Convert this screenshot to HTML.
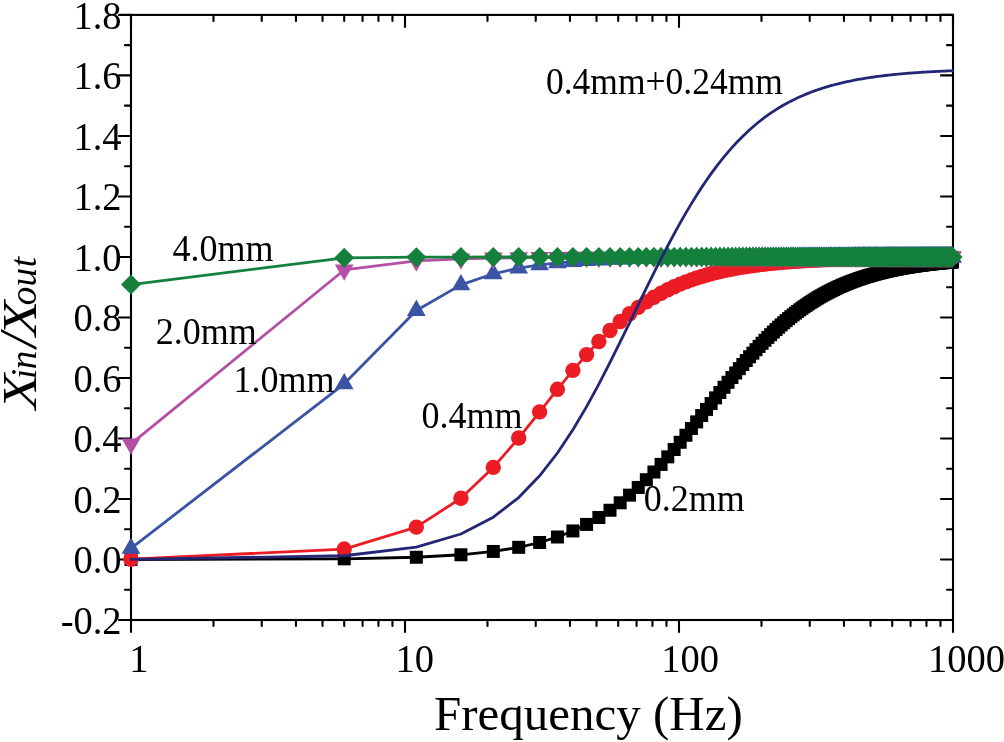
<!DOCTYPE html>
<html><head><meta charset="utf-8"><title>Xin/Xout vs Frequency</title>
<style>html,body{margin:0;padding:0;background:#fff;}body{width:1004px;height:742px;overflow:hidden;font-family:"Liberation Serif",serif;}svg{display:block;will-change:transform;}</style>
</head><body>
<svg width="1004" height="742" viewBox="0 0 1004 742"><rect x="131" y="14.91" width="822" height="605.1" fill="none" stroke="#000" stroke-width="2.1"/><path d="M119 620.01H131M953 620.01H941M125 589.75H131M953 589.75H947M119 559.5H131M953 559.5H941M125 529.25H131M953 529.25H947M119 498.99H131M953 498.99H941M125 468.74H131M953 468.74H947M119 438.48H131M953 438.48H941M125 408.23H131M953 408.23H947M119 377.97H131M953 377.97H941M125 347.72H131M953 347.72H947M119 317.46H131M953 317.46H941M125 287.2H131M953 287.2H947M119 256.95H131M953 256.95H941M125 226.69H131M953 226.69H947M119 196.44H131M953 196.44H941M125 166.18H131M953 166.18H947M119 135.93H131M953 135.93H941M125 105.67H131M953 105.67H947M119 75.42H131M953 75.42H941M125 45.16H131M953 45.16H947M119 14.91H131M953 14.91H941M131 620.01V632.01M131 14.91V26.91M213.48 620.01V626.01M213.48 14.91V20.91M261.73 620.01V626.01M261.73 14.91V20.91M295.96 620.01V626.01M295.96 14.91V20.91M322.52 620.01V626.01M322.52 14.91V20.91M344.21 620.01V626.01M344.21 14.91V20.91M362.56 620.01V626.01M362.56 14.91V20.91M378.45 620.01V626.01M378.45 14.91V20.91M392.46 620.01V626.01M392.46 14.91V20.91M405 620.01V632.01M405 14.91V26.91M487.48 620.01V626.01M487.48 14.91V20.91M535.73 620.01V626.01M535.73 14.91V20.91M569.96 620.01V626.01M569.96 14.91V20.91M596.52 620.01V626.01M596.52 14.91V20.91M618.21 620.01V626.01M618.21 14.91V20.91M636.56 620.01V626.01M636.56 14.91V20.91M652.45 620.01V626.01M652.45 14.91V20.91M666.46 620.01V626.01M666.46 14.91V20.91M679 620.01V632.01M679 14.91V26.91M761.48 620.01V626.01M761.48 14.91V20.91M809.73 620.01V626.01M809.73 14.91V20.91M843.96 620.01V626.01M843.96 14.91V20.91M870.52 620.01V626.01M870.52 14.91V20.91M892.21 620.01V626.01M892.21 14.91V20.91M910.56 620.01V626.01M910.56 14.91V20.91M926.45 620.01V626.01M926.45 14.91V20.91M940.46 620.01V626.01M940.46 14.91V20.91M953 620.01V632.01M953 14.91V26.91" stroke="#000" stroke-width="2.1" fill="none" stroke-linecap="round"/><path d="M131 559.48 L344.21 558.83 L416.34 557.25 L460.93 554.77 L493.29 551.45 L518.7 547.33 L539.63 542.49 L557.43 537 L572.9 530.94 L586.6 524.41 L598.87 517.49 L610 510.25 L620.18 502.79 L629.56 495.16 L638.24 487.46 L646.34 479.72 L653.92 472.02 L661.05 464.38 L667.78 456.86 L674.14 449.49 L680.18 442.28 L685.93 435.27 L691.42 428.47 L696.66 421.89 L701.68 415.54 L706.5 409.42 L711.13 403.54 L715.59 397.88 L719.89 392.46 L724.03 387.27 L728.04 382.3 L731.92 377.54 L735.67 373 L739.31 368.65 L742.84 364.51 L746.27 360.54 L749.6 356.76 L752.85 353.15 L756 349.7 L759.08 346.41 L762.08 343.27 L765 340.27 L767.85 337.41 L770.64 334.67 L773.36 332.06 L776.03 329.56 L778.63 327.17 L781.18 324.89 L783.67 322.71 L786.12 320.62 L788.51 318.62 L790.86 316.7 L793.16 314.87 L795.42 313.11 L797.63 311.43 L799.81 309.82 L801.95 308.27 L804.04 306.78 L806.11 305.36 L808.13 303.99 L810.13 302.67 L812.09 301.41 L814.02 300.19 L815.91 299.02 L817.78 297.9 L819.62 296.82 L821.43 295.77 L823.22 294.77 L824.97 293.8 L826.71 292.87 L828.41 291.97 L830.1 291.11 L831.76 290.27 L833.39 289.46 L835.01 288.68 L836.6 287.93 L838.17 287.2 L839.72 286.5 L841.26 285.82 L842.77 285.17 L844.26 284.53 L845.74 283.92 L847.19 283.32 L848.63 282.74 L850.05 282.19 L851.46 281.64 L852.85 281.12 L854.22 280.61 L855.58 280.12 L856.92 279.64 L858.24 279.18 L859.56 278.73 L860.85 278.29 L862.14 277.87 L863.41 277.46 L864.66 277.06 L865.91 276.67 L867.14 276.29 L868.36 275.92 L869.56 275.56 L870.76 275.22 L871.94 274.88 L873.11 274.55 L874.27 274.23 L875.41 273.92 L876.55 273.62 L877.68 273.32 L878.79 273.03 L879.9 272.75 L880.99 272.48 L882.08 272.21 L883.15 271.95 L884.22 271.7 L885.27 271.45 L886.32 271.21 L887.36 270.98 L888.38 270.75 L889.4 270.52 L890.41 270.3 L891.42 270.09 L892.41 269.88 L893.4 269.68 L894.38 269.48 L895.35 269.29 L896.31 269.1 L897.26 268.91 L898.21 268.73 L899.15 268.55 L900.08 268.38 L901 268.21 L901.92 268.04 L902.83 267.88 L903.74 267.72 L904.63 267.57 L905.52 267.41 L906.41 267.26 L907.28 267.12 L908.15 266.98 L909.02 266.84 L909.87 266.7 L910.73 266.56 L911.57 266.43 L912.41 266.3 L913.25 266.18 L914.07 266.05 L914.9 265.93 L915.71 265.81 L916.52 265.7 L917.33 265.58 L918.13 265.47 L918.93 265.36 L919.71 265.25 L920.5 265.15 L921.28 265.04 L922.05 264.94 L922.82 264.84 L923.59 264.74 L924.35 264.65 L925.1 264.55 L925.85 264.46 L926.6 264.37 L927.34 264.28 L928.07 264.19 L928.8 264.11 L929.53 264.02 L930.25 263.94 L930.97 263.86 L931.68 263.77 L932.39 263.7 L933.1 263.62 L933.8 263.54 L934.5 263.47 L935.19 263.39 L935.88 263.32 L936.56 263.25 L937.25 263.18 L937.92 263.11 L938.6 263.04 L939.27 262.97 L939.93 262.91 L940.59 262.84 L941.25 262.78 L941.91 262.72 L942.56 262.66 L943.21 262.6 L943.85 262.54 L944.49 262.48 L945.13 262.42 L945.76 262.36 L946.39 262.31 L947.02 262.25 L947.65 262.2 L948.27 262.14 L948.88 262.09 L949.5 262.04 L950.11 261.99 L950.72 261.94 L951.32 261.89 L951.92 261.84 L952.52 261.79" fill="none" stroke="#000000" stroke-width="2.8" stroke-linejoin="round"/><g fill="#000000"><rect x="124.5" y="552.98" width="13" height="13"/><rect x="337.71" y="552.33" width="13" height="13"/><rect x="409.84" y="550.75" width="13" height="13"/><rect x="454.43" y="548.27" width="13" height="13"/><rect x="486.79" y="544.95" width="13" height="13"/><rect x="512.2" y="540.83" width="13" height="13"/><rect x="533.13" y="535.99" width="13" height="13"/><rect x="550.93" y="530.5" width="13" height="13"/><rect x="566.4" y="524.44" width="13" height="13"/><rect x="580.1" y="517.91" width="13" height="13"/><rect x="592.37" y="510.99" width="13" height="13"/><rect x="603.5" y="503.75" width="13" height="13"/><rect x="613.68" y="496.29" width="13" height="13"/><rect x="623.06" y="488.66" width="13" height="13"/><rect x="631.74" y="480.96" width="13" height="13"/><rect x="639.84" y="473.22" width="13" height="13"/><rect x="647.42" y="465.52" width="13" height="13"/><rect x="654.55" y="457.88" width="13" height="13"/><rect x="661.28" y="450.36" width="13" height="13"/><rect x="667.64" y="442.99" width="13" height="13"/><rect x="673.68" y="435.78" width="13" height="13"/><rect x="679.43" y="428.77" width="13" height="13"/><rect x="684.92" y="421.97" width="13" height="13"/><rect x="690.16" y="415.39" width="13" height="13"/><rect x="695.18" y="409.04" width="13" height="13"/><rect x="700" y="402.92" width="13" height="13"/><rect x="704.63" y="397.04" width="13" height="13"/><rect x="709.09" y="391.38" width="13" height="13"/><rect x="713.39" y="385.96" width="13" height="13"/><rect x="717.53" y="380.77" width="13" height="13"/><rect x="721.54" y="375.8" width="13" height="13"/><rect x="725.42" y="371.04" width="13" height="13"/><rect x="729.17" y="366.5" width="13" height="13"/><rect x="732.81" y="362.15" width="13" height="13"/><rect x="736.34" y="358.01" width="13" height="13"/><rect x="739.77" y="354.04" width="13" height="13"/><rect x="743.1" y="350.26" width="13" height="13"/><rect x="746.35" y="346.65" width="13" height="13"/><rect x="749.5" y="343.2" width="13" height="13"/><rect x="752.58" y="339.91" width="13" height="13"/><rect x="755.58" y="336.77" width="13" height="13"/><rect x="758.5" y="333.77" width="13" height="13"/><rect x="761.35" y="330.91" width="13" height="13"/><rect x="764.14" y="328.17" width="13" height="13"/><rect x="766.86" y="325.56" width="13" height="13"/><rect x="769.53" y="323.06" width="13" height="13"/><rect x="772.13" y="320.67" width="13" height="13"/><rect x="774.68" y="318.39" width="13" height="13"/><rect x="777.17" y="316.21" width="13" height="13"/><rect x="779.62" y="314.12" width="13" height="13"/><rect x="782.01" y="312.12" width="13" height="13"/><rect x="784.36" y="310.2" width="13" height="13"/><rect x="786.66" y="308.37" width="13" height="13"/><rect x="788.92" y="306.61" width="13" height="13"/><rect x="791.13" y="304.93" width="13" height="13"/><rect x="793.31" y="303.32" width="13" height="13"/><rect x="795.45" y="301.77" width="13" height="13"/><rect x="797.54" y="300.28" width="13" height="13"/><rect x="799.61" y="298.86" width="13" height="13"/><rect x="801.63" y="297.49" width="13" height="13"/><rect x="803.63" y="296.17" width="13" height="13"/><rect x="805.59" y="294.91" width="13" height="13"/><rect x="807.52" y="293.69" width="13" height="13"/><rect x="809.41" y="292.52" width="13" height="13"/><rect x="811.28" y="291.4" width="13" height="13"/><rect x="813.12" y="290.32" width="13" height="13"/><rect x="814.93" y="289.27" width="13" height="13"/><rect x="816.72" y="288.27" width="13" height="13"/><rect x="818.47" y="287.3" width="13" height="13"/><rect x="820.21" y="286.37" width="13" height="13"/><rect x="821.91" y="285.47" width="13" height="13"/><rect x="823.6" y="284.61" width="13" height="13"/><rect x="825.26" y="283.77" width="13" height="13"/><rect x="826.89" y="282.96" width="13" height="13"/><rect x="828.51" y="282.18" width="13" height="13"/><rect x="830.1" y="281.43" width="13" height="13"/><rect x="831.67" y="280.7" width="13" height="13"/><rect x="833.22" y="280" width="13" height="13"/><rect x="834.76" y="279.32" width="13" height="13"/><rect x="836.27" y="278.67" width="13" height="13"/><rect x="837.76" y="278.03" width="13" height="13"/><rect x="839.24" y="277.42" width="13" height="13"/><rect x="840.69" y="276.82" width="13" height="13"/><rect x="842.13" y="276.24" width="13" height="13"/><rect x="843.55" y="275.69" width="13" height="13"/><rect x="844.96" y="275.14" width="13" height="13"/><rect x="846.35" y="274.62" width="13" height="13"/><rect x="847.72" y="274.11" width="13" height="13"/><rect x="849.08" y="273.62" width="13" height="13"/><rect x="850.42" y="273.14" width="13" height="13"/><rect x="851.74" y="272.68" width="13" height="13"/><rect x="853.06" y="272.23" width="13" height="13"/><rect x="854.35" y="271.79" width="13" height="13"/><rect x="855.64" y="271.37" width="13" height="13"/><rect x="856.91" y="270.96" width="13" height="13"/><rect x="858.16" y="270.56" width="13" height="13"/><rect x="859.41" y="270.17" width="13" height="13"/><rect x="860.64" y="269.79" width="13" height="13"/><rect x="861.86" y="269.42" width="13" height="13"/><rect x="863.06" y="269.06" width="13" height="13"/><rect x="864.26" y="268.72" width="13" height="13"/><rect x="865.44" y="268.38" width="13" height="13"/><rect x="866.61" y="268.05" width="13" height="13"/><rect x="867.77" y="267.73" width="13" height="13"/><rect x="868.91" y="267.42" width="13" height="13"/><rect x="870.05" y="267.12" width="13" height="13"/><rect x="871.18" y="266.82" width="13" height="13"/><rect x="872.29" y="266.53" width="13" height="13"/><rect x="873.4" y="266.25" width="13" height="13"/><rect x="874.49" y="265.98" width="13" height="13"/><rect x="875.58" y="265.71" width="13" height="13"/><rect x="876.65" y="265.45" width="13" height="13"/><rect x="877.72" y="265.2" width="13" height="13"/><rect x="878.77" y="264.95" width="13" height="13"/><rect x="879.82" y="264.71" width="13" height="13"/><rect x="880.86" y="264.48" width="13" height="13"/><rect x="881.88" y="264.25" width="13" height="13"/><rect x="882.9" y="264.02" width="13" height="13"/><rect x="883.91" y="263.8" width="13" height="13"/><rect x="884.92" y="263.59" width="13" height="13"/><rect x="885.91" y="263.38" width="13" height="13"/><rect x="886.9" y="263.18" width="13" height="13"/><rect x="887.88" y="262.98" width="13" height="13"/><rect x="888.85" y="262.79" width="13" height="13"/><rect x="889.81" y="262.6" width="13" height="13"/><rect x="890.76" y="262.41" width="13" height="13"/><rect x="891.71" y="262.23" width="13" height="13"/><rect x="892.65" y="262.05" width="13" height="13"/><rect x="893.58" y="261.88" width="13" height="13"/><rect x="894.5" y="261.71" width="13" height="13"/><rect x="895.42" y="261.54" width="13" height="13"/><rect x="896.33" y="261.38" width="13" height="13"/><rect x="897.24" y="261.22" width="13" height="13"/><rect x="898.13" y="261.07" width="13" height="13"/><rect x="899.02" y="260.91" width="13" height="13"/><rect x="899.91" y="260.76" width="13" height="13"/><rect x="900.78" y="260.62" width="13" height="13"/><rect x="901.65" y="260.48" width="13" height="13"/><rect x="902.52" y="260.34" width="13" height="13"/><rect x="903.37" y="260.2" width="13" height="13"/><rect x="904.23" y="260.06" width="13" height="13"/><rect x="905.07" y="259.93" width="13" height="13"/><rect x="905.91" y="259.8" width="13" height="13"/><rect x="906.75" y="259.68" width="13" height="13"/><rect x="907.57" y="259.55" width="13" height="13"/><rect x="908.4" y="259.43" width="13" height="13"/><rect x="909.21" y="259.31" width="13" height="13"/><rect x="910.02" y="259.2" width="13" height="13"/><rect x="910.83" y="259.08" width="13" height="13"/><rect x="911.63" y="258.97" width="13" height="13"/><rect x="912.43" y="258.86" width="13" height="13"/><rect x="913.21" y="258.75" width="13" height="13"/><rect x="914" y="258.65" width="13" height="13"/><rect x="914.78" y="258.54" width="13" height="13"/><rect x="915.55" y="258.44" width="13" height="13"/><rect x="916.32" y="258.34" width="13" height="13"/><rect x="917.09" y="258.24" width="13" height="13"/><rect x="917.85" y="258.15" width="13" height="13"/><rect x="918.6" y="258.05" width="13" height="13"/><rect x="919.35" y="257.96" width="13" height="13"/><rect x="920.1" y="257.87" width="13" height="13"/><rect x="920.84" y="257.78" width="13" height="13"/><rect x="921.57" y="257.69" width="13" height="13"/><rect x="922.3" y="257.61" width="13" height="13"/><rect x="923.03" y="257.52" width="13" height="13"/><rect x="923.75" y="257.44" width="13" height="13"/><rect x="924.47" y="257.36" width="13" height="13"/><rect x="925.18" y="257.27" width="13" height="13"/><rect x="925.89" y="257.2" width="13" height="13"/><rect x="926.6" y="257.12" width="13" height="13"/><rect x="927.3" y="257.04" width="13" height="13"/><rect x="928" y="256.97" width="13" height="13"/><rect x="928.69" y="256.89" width="13" height="13"/><rect x="929.38" y="256.82" width="13" height="13"/><rect x="930.06" y="256.75" width="13" height="13"/><rect x="930.75" y="256.68" width="13" height="13"/><rect x="931.42" y="256.61" width="13" height="13"/><rect x="932.1" y="256.54" width="13" height="13"/><rect x="932.77" y="256.47" width="13" height="13"/><rect x="933.43" y="256.41" width="13" height="13"/><rect x="934.09" y="256.34" width="13" height="13"/><rect x="934.75" y="256.28" width="13" height="13"/><rect x="935.41" y="256.22" width="13" height="13"/><rect x="936.06" y="256.16" width="13" height="13"/><rect x="936.71" y="256.1" width="13" height="13"/><rect x="937.35" y="256.04" width="13" height="13"/><rect x="937.99" y="255.98" width="13" height="13"/><rect x="938.63" y="255.92" width="13" height="13"/><rect x="939.26" y="255.86" width="13" height="13"/><rect x="939.89" y="255.81" width="13" height="13"/><rect x="940.52" y="255.75" width="13" height="13"/><rect x="941.15" y="255.7" width="13" height="13"/><rect x="941.77" y="255.64" width="13" height="13"/><rect x="942.38" y="255.59" width="13" height="13"/><rect x="943" y="255.54" width="13" height="13"/><rect x="943.61" y="255.49" width="13" height="13"/><rect x="944.22" y="255.44" width="13" height="13"/><rect x="944.82" y="255.39" width="13" height="13"/><rect x="945.42" y="255.34" width="13" height="13"/><rect x="946.02" y="255.29" width="13" height="13"/></g><path d="M131 559.2 L344.21 549.07 L416.34 527.08 L460.93 498.23 L493.29 467.42 L518.7 438.05 L539.63 411.84 L557.43 389.32 L572.9 370.37 L586.6 354.58 L598.87 341.46 L610 330.55 L620.18 321.44 L629.56 313.81 L638.24 307.37 L646.34 301.91 L653.92 297.24 L661.05 293.24 L667.78 289.78 L674.14 286.78 L680.18 284.16 L685.93 281.86 L691.42 279.83 L696.66 278.04 L701.68 276.44 L706.5 275.01 L711.13 273.74 L715.59 272.59 L719.89 271.55 L724.03 270.61 L728.04 269.76 L731.92 268.98 L735.67 268.28 L739.31 267.63 L742.84 267.03 L746.27 266.49 L749.6 265.98 L752.85 265.52 L756 265.09 L759.08 264.69 L762.08 264.32 L765 263.97 L767.85 263.65 L770.64 263.35 L773.36 263.07 L776.03 262.81 L778.63 262.56 L781.18 262.33 L783.67 262.11 L786.12 261.91 L788.51 261.71 L790.86 261.53 L793.16 261.36 L795.42 261.2 L797.63 261.05 L799.81 260.9 L801.95 260.76 L804.04 260.63 L806.11 260.51 L808.13 260.39 L810.13 260.28 L812.09 260.17 L814.02 260.07 L815.91 259.97 L817.78 259.88 L819.62 259.79 L821.43 259.71 L823.22 259.63 L824.97 259.55 L826.71 259.48 L828.41 259.41 L830.1 259.34 L831.76 259.27 L833.39 259.21 L835.01 259.15 L836.6 259.09 L838.17 259.04 L839.72 258.98 L841.26 258.93 L842.77 258.88 L844.26 258.83 L845.74 258.79 L847.19 258.74 L848.63 258.7 L850.05 258.66 L851.46 258.62 L852.85 258.58 L854.22 258.55 L855.58 258.51 L856.92 258.48 L858.24 258.44 L859.56 258.41 L860.85 258.38 L862.14 258.35 L863.41 258.32 L864.66 258.29 L865.91 258.26 L867.14 258.24 L868.36 258.21 L869.56 258.18 L870.76 258.16 L871.94 258.14 L873.11 258.11 L874.27 258.09 L875.41 258.07 L876.55 258.05 L877.68 258.03 L878.79 258.01 L879.9 257.99 L880.99 257.97 L882.08 257.95 L883.15 257.93 L884.22 257.92 L885.27 257.9 L886.32 257.88 L887.36 257.87 L888.38 257.85 L889.4 257.84 L890.41 257.82 L891.42 257.81 L892.41 257.79 L893.4 257.78 L894.38 257.76 L895.35 257.75 L896.31 257.74 L897.26 257.73 L898.21 257.71 L899.15 257.7 L900.08 257.69 L901 257.68 L901.92 257.67 L902.83 257.66 L903.74 257.65 L904.63 257.64 L905.52 257.63 L906.41 257.62 L907.28 257.61 L908.15 257.6 L909.02 257.59 L909.87 257.58 L910.73 257.57 L911.57 257.56 L912.41 257.55 L913.25 257.54 L914.07 257.54 L914.9 257.53 L915.71 257.52 L916.52 257.51 L917.33 257.5 L918.13 257.5 L918.93 257.49 L919.71 257.48 L920.5 257.48 L921.28 257.47 L922.05 257.46 L922.82 257.46 L923.59 257.45 L924.35 257.44 L925.1 257.44 L925.85 257.43 L926.6 257.42 L927.34 257.42 L928.07 257.41 L928.8 257.41 L929.53 257.4 L930.25 257.4 L930.97 257.39 L931.68 257.39 L932.39 257.38 L933.1 257.38 L933.8 257.37 L934.5 257.37 L935.19 257.36 L935.88 257.36 L936.56 257.35 L937.25 257.35 L937.92 257.34 L938.6 257.34 L939.27 257.33 L939.93 257.33 L940.59 257.33 L941.25 257.32 L941.91 257.32 L942.56 257.31 L943.21 257.31 L943.85 257.31 L944.49 257.3 L945.13 257.3 L945.76 257.29 L946.39 257.29 L947.02 257.29 L947.65 257.28 L948.27 257.28 L948.88 257.28 L949.5 257.27 L950.11 257.27 L950.72 257.27 L951.32 257.26 L951.92 257.26 L952.52 257.26" fill="none" stroke="#ec1c24" stroke-width="2.8" stroke-linejoin="round"/><g fill="#ec1c24"><circle cx="131" cy="559.2" r="7.7"/><circle cx="344.21" cy="549.07" r="7.7"/><circle cx="416.34" cy="527.08" r="7.7"/><circle cx="460.93" cy="498.23" r="7.7"/><circle cx="493.29" cy="467.42" r="7.7"/><circle cx="518.7" cy="438.05" r="7.7"/><circle cx="539.63" cy="411.84" r="7.7"/><circle cx="557.43" cy="389.32" r="7.7"/><circle cx="572.9" cy="370.37" r="7.7"/><circle cx="586.6" cy="354.58" r="7.7"/><circle cx="598.87" cy="341.46" r="7.7"/><circle cx="610" cy="330.55" r="7.7"/><circle cx="620.18" cy="321.44" r="7.7"/><circle cx="629.56" cy="313.81" r="7.7"/><circle cx="638.24" cy="307.37" r="7.7"/><circle cx="646.34" cy="301.91" r="7.7"/><circle cx="653.92" cy="297.24" r="7.7"/><circle cx="661.05" cy="293.24" r="7.7"/><circle cx="667.78" cy="289.78" r="7.7"/><circle cx="674.14" cy="286.78" r="7.7"/><circle cx="680.18" cy="284.16" r="7.7"/><circle cx="685.93" cy="281.86" r="7.7"/><circle cx="691.42" cy="279.83" r="7.7"/><circle cx="696.66" cy="278.04" r="7.7"/><circle cx="701.68" cy="276.44" r="7.7"/><circle cx="706.5" cy="275.01" r="7.7"/><circle cx="711.13" cy="273.74" r="7.7"/><circle cx="715.59" cy="272.59" r="7.7"/><circle cx="719.89" cy="271.55" r="7.7"/><circle cx="724.03" cy="270.61" r="7.7"/><circle cx="728.04" cy="269.76" r="7.7"/><circle cx="731.92" cy="268.98" r="7.7"/><circle cx="735.67" cy="268.28" r="7.7"/><circle cx="739.31" cy="267.63" r="7.7"/><circle cx="742.84" cy="267.03" r="7.7"/><circle cx="746.27" cy="266.49" r="7.7"/><circle cx="749.6" cy="265.98" r="7.7"/><circle cx="752.85" cy="265.52" r="7.7"/><circle cx="756" cy="265.09" r="7.7"/><circle cx="759.08" cy="264.69" r="7.7"/><circle cx="762.08" cy="264.32" r="7.7"/><circle cx="765" cy="263.97" r="7.7"/><circle cx="767.85" cy="263.65" r="7.7"/><circle cx="770.64" cy="263.35" r="7.7"/><circle cx="773.36" cy="263.07" r="7.7"/><circle cx="776.03" cy="262.81" r="7.7"/><circle cx="778.63" cy="262.56" r="7.7"/><circle cx="781.18" cy="262.33" r="7.7"/><circle cx="783.67" cy="262.11" r="7.7"/><circle cx="786.12" cy="261.91" r="7.7"/><circle cx="788.51" cy="261.71" r="7.7"/><circle cx="790.86" cy="261.53" r="7.7"/><circle cx="793.16" cy="261.36" r="7.7"/><circle cx="795.42" cy="261.2" r="7.7"/><circle cx="797.63" cy="261.05" r="7.7"/><circle cx="799.81" cy="260.9" r="7.7"/><circle cx="801.95" cy="260.76" r="7.7"/><circle cx="804.04" cy="260.63" r="7.7"/><circle cx="806.11" cy="260.51" r="7.7"/><circle cx="808.13" cy="260.39" r="7.7"/><circle cx="810.13" cy="260.28" r="7.7"/><circle cx="812.09" cy="260.17" r="7.7"/><circle cx="814.02" cy="260.07" r="7.7"/><circle cx="815.91" cy="259.97" r="7.7"/><circle cx="817.78" cy="259.88" r="7.7"/><circle cx="819.62" cy="259.79" r="7.7"/><circle cx="821.43" cy="259.71" r="7.7"/><circle cx="823.22" cy="259.63" r="7.7"/><circle cx="824.97" cy="259.55" r="7.7"/><circle cx="826.71" cy="259.48" r="7.7"/><circle cx="828.41" cy="259.41" r="7.7"/><circle cx="830.1" cy="259.34" r="7.7"/><circle cx="831.76" cy="259.27" r="7.7"/><circle cx="833.39" cy="259.21" r="7.7"/><circle cx="835.01" cy="259.15" r="7.7"/><circle cx="836.6" cy="259.09" r="7.7"/><circle cx="838.17" cy="259.04" r="7.7"/><circle cx="839.72" cy="258.98" r="7.7"/><circle cx="841.26" cy="258.93" r="7.7"/><circle cx="842.77" cy="258.88" r="7.7"/><circle cx="844.26" cy="258.83" r="7.7"/><circle cx="845.74" cy="258.79" r="7.7"/><circle cx="847.19" cy="258.74" r="7.7"/><circle cx="848.63" cy="258.7" r="7.7"/><circle cx="850.05" cy="258.66" r="7.7"/><circle cx="851.46" cy="258.62" r="7.7"/><circle cx="852.85" cy="258.58" r="7.7"/><circle cx="854.22" cy="258.55" r="7.7"/><circle cx="855.58" cy="258.51" r="7.7"/><circle cx="856.92" cy="258.48" r="7.7"/><circle cx="858.24" cy="258.44" r="7.7"/><circle cx="859.56" cy="258.41" r="7.7"/><circle cx="860.85" cy="258.38" r="7.7"/><circle cx="862.14" cy="258.35" r="7.7"/><circle cx="863.41" cy="258.32" r="7.7"/><circle cx="864.66" cy="258.29" r="7.7"/><circle cx="865.91" cy="258.26" r="7.7"/><circle cx="867.14" cy="258.24" r="7.7"/><circle cx="868.36" cy="258.21" r="7.7"/><circle cx="869.56" cy="258.18" r="7.7"/><circle cx="870.76" cy="258.16" r="7.7"/><circle cx="871.94" cy="258.14" r="7.7"/><circle cx="873.11" cy="258.11" r="7.7"/><circle cx="874.27" cy="258.09" r="7.7"/><circle cx="875.41" cy="258.07" r="7.7"/><circle cx="876.55" cy="258.05" r="7.7"/><circle cx="877.68" cy="258.03" r="7.7"/><circle cx="878.79" cy="258.01" r="7.7"/><circle cx="879.9" cy="257.99" r="7.7"/><circle cx="880.99" cy="257.97" r="7.7"/><circle cx="882.08" cy="257.95" r="7.7"/><circle cx="883.15" cy="257.93" r="7.7"/><circle cx="884.22" cy="257.92" r="7.7"/><circle cx="885.27" cy="257.9" r="7.7"/><circle cx="886.32" cy="257.88" r="7.7"/><circle cx="887.36" cy="257.87" r="7.7"/><circle cx="888.38" cy="257.85" r="7.7"/><circle cx="889.4" cy="257.84" r="7.7"/><circle cx="890.41" cy="257.82" r="7.7"/><circle cx="891.42" cy="257.81" r="7.7"/><circle cx="892.41" cy="257.79" r="7.7"/><circle cx="893.4" cy="257.78" r="7.7"/><circle cx="894.38" cy="257.76" r="7.7"/><circle cx="895.35" cy="257.75" r="7.7"/><circle cx="896.31" cy="257.74" r="7.7"/><circle cx="897.26" cy="257.73" r="7.7"/><circle cx="898.21" cy="257.71" r="7.7"/><circle cx="899.15" cy="257.7" r="7.7"/><circle cx="900.08" cy="257.69" r="7.7"/><circle cx="901" cy="257.68" r="7.7"/><circle cx="901.92" cy="257.67" r="7.7"/><circle cx="902.83" cy="257.66" r="7.7"/><circle cx="903.74" cy="257.65" r="7.7"/><circle cx="904.63" cy="257.64" r="7.7"/><circle cx="905.52" cy="257.63" r="7.7"/><circle cx="906.41" cy="257.62" r="7.7"/><circle cx="907.28" cy="257.61" r="7.7"/><circle cx="908.15" cy="257.6" r="7.7"/><circle cx="909.02" cy="257.59" r="7.7"/><circle cx="909.87" cy="257.58" r="7.7"/><circle cx="910.73" cy="257.57" r="7.7"/><circle cx="911.57" cy="257.56" r="7.7"/><circle cx="912.41" cy="257.55" r="7.7"/><circle cx="913.25" cy="257.54" r="7.7"/><circle cx="914.07" cy="257.54" r="7.7"/><circle cx="914.9" cy="257.53" r="7.7"/><circle cx="915.71" cy="257.52" r="7.7"/><circle cx="916.52" cy="257.51" r="7.7"/><circle cx="917.33" cy="257.5" r="7.7"/><circle cx="918.13" cy="257.5" r="7.7"/><circle cx="918.93" cy="257.49" r="7.7"/><circle cx="919.71" cy="257.48" r="7.7"/><circle cx="920.5" cy="257.48" r="7.7"/><circle cx="921.28" cy="257.47" r="7.7"/><circle cx="922.05" cy="257.46" r="7.7"/><circle cx="922.82" cy="257.46" r="7.7"/><circle cx="923.59" cy="257.45" r="7.7"/><circle cx="924.35" cy="257.44" r="7.7"/><circle cx="925.1" cy="257.44" r="7.7"/><circle cx="925.85" cy="257.43" r="7.7"/><circle cx="926.6" cy="257.42" r="7.7"/><circle cx="927.34" cy="257.42" r="7.7"/><circle cx="928.07" cy="257.41" r="7.7"/><circle cx="928.8" cy="257.41" r="7.7"/><circle cx="929.53" cy="257.4" r="7.7"/><circle cx="930.25" cy="257.4" r="7.7"/><circle cx="930.97" cy="257.39" r="7.7"/><circle cx="931.68" cy="257.39" r="7.7"/><circle cx="932.39" cy="257.38" r="7.7"/><circle cx="933.1" cy="257.38" r="7.7"/><circle cx="933.8" cy="257.37" r="7.7"/><circle cx="934.5" cy="257.37" r="7.7"/><circle cx="935.19" cy="257.36" r="7.7"/><circle cx="935.88" cy="257.36" r="7.7"/><circle cx="936.56" cy="257.35" r="7.7"/><circle cx="937.25" cy="257.35" r="7.7"/><circle cx="937.92" cy="257.34" r="7.7"/><circle cx="938.6" cy="257.34" r="7.7"/><circle cx="939.27" cy="257.33" r="7.7"/><circle cx="939.93" cy="257.33" r="7.7"/><circle cx="940.59" cy="257.33" r="7.7"/><circle cx="941.25" cy="257.32" r="7.7"/><circle cx="941.91" cy="257.32" r="7.7"/><circle cx="942.56" cy="257.31" r="7.7"/><circle cx="943.21" cy="257.31" r="7.7"/><circle cx="943.85" cy="257.31" r="7.7"/><circle cx="944.49" cy="257.3" r="7.7"/><circle cx="945.13" cy="257.3" r="7.7"/><circle cx="945.76" cy="257.29" r="7.7"/><circle cx="946.39" cy="257.29" r="7.7"/><circle cx="947.02" cy="257.29" r="7.7"/><circle cx="947.65" cy="257.28" r="7.7"/><circle cx="948.27" cy="257.28" r="7.7"/><circle cx="948.88" cy="257.28" r="7.7"/><circle cx="949.5" cy="257.27" r="7.7"/><circle cx="950.11" cy="257.27" r="7.7"/><circle cx="950.72" cy="257.27" r="7.7"/><circle cx="951.32" cy="257.26" r="7.7"/><circle cx="951.92" cy="257.26" r="7.7"/><circle cx="952.52" cy="257.26" r="7.7"/></g><path d="M131 548.3 L344.21 383.85 L416.34 310.48 L460.93 284.85 L493.29 273.8 L518.7 268.16 L539.63 264.92 L557.43 262.9 L572.9 261.56 L586.6 260.62 L598.87 259.95 L610 259.44 L620.18 259.05 L629.56 258.75 L638.24 258.5 L646.34 258.31 L653.92 258.14 L661.05 258.01 L667.78 257.9 L674.14 257.8 L680.18 257.72 L685.93 257.65 L691.42 257.59 L696.66 257.53 L701.68 257.49 L706.5 257.44 L711.13 257.41 L715.59 257.37 L719.89 257.35 L724.03 257.32 L728.04 257.29 L731.92 257.27 L735.67 257.25 L739.31 257.24 L742.84 257.22 L746.27 257.2 L749.6 257.19 L752.85 257.18 L756 257.17 L759.08 257.15 L762.08 257.14 L765 257.14 L767.85 257.13 L770.64 257.12 L773.36 257.11 L776.03 257.1 L778.63 257.1 L781.18 257.09 L783.67 257.09 L786.12 257.08 L788.51 257.07 L790.86 257.07 L793.16 257.07 L795.42 257.06 L797.63 257.06 L799.81 257.05 L801.95 257.05 L804.04 257.05 L806.11 257.04 L808.13 257.04 L810.13 257.04 L812.09 257.03 L814.02 257.03 L815.91 257.03 L817.78 257.03 L819.62 257.02 L821.43 257.02 L823.22 257.02 L824.97 257.02 L826.71 257.02 L828.41 257.01 L830.1 257.01 L831.76 257.01 L833.39 257.01 L835.01 257.01 L836.6 257.01 L838.17 257 L839.72 257 L841.26 257 L842.77 257 L844.26 257 L845.74 257 L847.19 257 L848.63 257 L850.05 256.99 L851.46 256.99 L852.85 256.99 L854.22 256.99 L855.58 256.99 L856.92 256.99 L858.24 256.99 L859.56 256.99 L860.85 256.99 L862.14 256.99 L863.41 256.99 L864.66 256.98 L865.91 256.98 L867.14 256.98 L868.36 256.98 L869.56 256.98 L870.76 256.98 L871.94 256.98 L873.11 256.98 L874.27 256.98 L875.41 256.98 L876.55 256.98 L877.68 256.98 L878.79 256.98 L879.9 256.98 L880.99 256.98 L882.08 256.98 L883.15 256.98 L884.22 256.98 L885.27 256.97 L886.32 256.97 L887.36 256.97 L888.38 256.97 L889.4 256.97 L890.41 256.97 L891.42 256.97 L892.41 256.97 L893.4 256.97 L894.38 256.97 L895.35 256.97 L896.31 256.97 L897.26 256.97 L898.21 256.97 L899.15 256.97 L900.08 256.97 L901 256.97 L901.92 256.97 L902.83 256.97 L903.74 256.97 L904.63 256.97 L905.52 256.97 L906.41 256.97 L907.28 256.97 L908.15 256.97 L909.02 256.97 L909.87 256.97 L910.73 256.97 L911.57 256.97 L912.41 256.97 L913.25 256.97 L914.07 256.97 L914.9 256.96 L915.71 256.96 L916.52 256.96 L917.33 256.96 L918.13 256.96 L918.93 256.96 L919.71 256.96 L920.5 256.96 L921.28 256.96 L922.05 256.96 L922.82 256.96 L923.59 256.96 L924.35 256.96 L925.1 256.96 L925.85 256.96 L926.6 256.96 L927.34 256.96 L928.07 256.96 L928.8 256.96 L929.53 256.96 L930.25 256.96 L930.97 256.96 L931.68 256.96 L932.39 256.96 L933.1 256.96 L933.8 256.96 L934.5 256.96 L935.19 256.96 L935.88 256.96 L936.56 256.96 L937.25 256.96 L937.92 256.96 L938.6 256.96 L939.27 256.96 L939.93 256.96 L940.59 256.96 L941.25 256.96 L941.91 256.96 L942.56 256.96 L943.21 256.96 L943.85 256.96 L944.49 256.96 L945.13 256.96 L945.76 256.96 L946.39 256.96 L947.02 256.96 L947.65 256.96 L948.27 256.96 L948.88 256.96 L949.5 256.96 L950.11 256.96 L950.72 256.96 L951.32 256.96 L951.92 256.96 L952.52 256.96" fill="none" stroke="#3a53a4" stroke-width="2.8" stroke-linejoin="round"/><g fill="#3a53a4"><path d="M131 537.43L140.35 553.73H121.65Z"/><path d="M344.21 372.99L353.56 389.29H334.86Z"/><path d="M416.34 299.61L425.69 315.91H406.99Z"/><path d="M460.93 273.99L470.28 290.29H451.58Z"/><path d="M493.29 262.93L502.64 279.23H483.94Z"/><path d="M518.7 257.29L528.05 273.59H509.35Z"/><path d="M539.63 254.06L548.98 270.36H530.28Z"/><path d="M557.43 252.04L566.78 268.34H548.08Z"/><path d="M572.9 250.69L582.25 266.99H563.55Z"/><path d="M586.6 249.76L595.95 266.06H577.25Z"/><path d="M598.87 249.08L608.22 265.38H589.52Z"/><path d="M610 248.57L619.35 264.87H600.65Z"/><path d="M620.18 248.18L629.53 264.48H610.83Z"/><path d="M629.56 247.88L638.91 264.18H620.21Z"/><path d="M638.24 247.64L647.59 263.94H628.89Z"/><path d="M646.34 247.44L655.69 263.74H636.99Z"/><path d="M653.92 247.28L663.27 263.58H644.57Z"/><path d="M661.05 247.14L670.4 263.44H651.7Z"/><path d="M667.78 247.03L677.13 263.33H658.43Z"/><path d="M674.14 246.93L683.49 263.23H664.79Z"/><path d="M680.18 246.85L689.53 263.15H670.83Z"/><path d="M685.93 246.78L695.28 263.08H676.58Z"/><path d="M691.42 246.72L700.77 263.02H682.07Z"/><path d="M696.66 246.67L706.01 262.97H687.31Z"/><path d="M701.68 246.62L711.03 262.92H692.33Z"/><path d="M706.5 246.58L715.85 262.88H697.15Z"/><path d="M711.13 246.54L720.48 262.84H701.78Z"/><path d="M715.59 246.51L724.94 262.81H706.24Z"/><path d="M719.89 246.48L729.24 262.78H710.54Z"/><path d="M724.03 246.45L733.38 262.75H714.68Z"/><path d="M728.04 246.43L737.39 262.73H718.69Z"/><path d="M731.92 246.41L741.27 262.71H722.57Z"/><path d="M735.67 246.39L745.02 262.69H726.32Z"/><path d="M739.31 246.37L748.66 262.67H729.96Z"/><path d="M742.84 246.35L752.19 262.65H733.49Z"/><path d="M746.27 246.34L755.62 262.64H736.92Z"/><path d="M749.6 246.32L758.95 262.62H740.25Z"/><path d="M752.85 246.31L762.2 262.61H743.5Z"/><path d="M756 246.3L765.35 262.6H746.65Z"/><path d="M759.08 246.29L768.43 262.59H749.73Z"/><path d="M762.08 246.28L771.43 262.58H752.73Z"/><path d="M765 246.27L774.35 262.57H755.65Z"/><path d="M767.85 246.26L777.2 262.56H758.5Z"/><path d="M770.64 246.25L779.99 262.55H761.29Z"/><path d="M773.36 246.24L782.71 262.54H764.01Z"/><path d="M776.03 246.24L785.38 262.54H766.68Z"/><path d="M778.63 246.23L787.98 262.53H769.28Z"/><path d="M781.18 246.22L790.53 262.52H771.83Z"/><path d="M783.67 246.22L793.02 262.52H774.32Z"/><path d="M786.12 246.21L795.47 262.51H776.77Z"/><path d="M788.51 246.21L797.86 262.51H779.16Z"/><path d="M790.86 246.2L800.21 262.5H781.51Z"/><path d="M793.16 246.2L802.51 262.5H783.81Z"/><path d="M795.42 246.19L804.77 262.49H786.07Z"/><path d="M797.63 246.19L806.98 262.49H788.28Z"/><path d="M799.81 246.19L809.16 262.49H790.46Z"/><path d="M801.95 246.18L811.3 262.48H792.6Z"/><path d="M804.04 246.18L813.39 262.48H794.69Z"/><path d="M806.11 246.18L815.46 262.48H796.76Z"/><path d="M808.13 246.17L817.48 262.47H798.78Z"/><path d="M810.13 246.17L819.48 262.47H800.78Z"/><path d="M812.09 246.17L821.44 262.47H802.74Z"/><path d="M814.02 246.16L823.37 262.46H804.67Z"/><path d="M815.91 246.16L825.26 262.46H806.56Z"/><path d="M817.78 246.16L827.13 262.46H808.43Z"/><path d="M819.62 246.16L828.97 262.46H810.27Z"/><path d="M821.43 246.16L830.78 262.46H812.08Z"/><path d="M823.22 246.15L832.57 262.45H813.87Z"/><path d="M824.97 246.15L834.32 262.45H815.62Z"/><path d="M826.71 246.15L836.06 262.45H817.36Z"/><path d="M828.41 246.15L837.76 262.45H819.06Z"/><path d="M830.1 246.15L839.45 262.45H820.75Z"/><path d="M831.76 246.14L841.11 262.44H822.41Z"/><path d="M833.39 246.14L842.74 262.44H824.04Z"/><path d="M835.01 246.14L844.36 262.44H825.66Z"/><path d="M836.6 246.14L845.95 262.44H827.25Z"/><path d="M838.17 246.14L847.52 262.44H828.82Z"/><path d="M839.72 246.14L849.07 262.44H830.37Z"/><path d="M841.26 246.13L850.61 262.43H831.91Z"/><path d="M842.77 246.13L852.12 262.43H833.42Z"/><path d="M844.26 246.13L853.61 262.43H834.91Z"/><path d="M845.74 246.13L855.09 262.43H836.39Z"/><path d="M847.19 246.13L856.54 262.43H837.84Z"/><path d="M848.63 246.13L857.98 262.43H839.28Z"/><path d="M850.05 246.13L859.4 262.43H840.7Z"/><path d="M851.46 246.13L860.81 262.43H842.11Z"/><path d="M852.85 246.13L862.2 262.43H843.5Z"/><path d="M854.22 246.12L863.57 262.42H844.87Z"/><path d="M855.58 246.12L864.93 262.42H846.23Z"/><path d="M856.92 246.12L866.27 262.42H847.57Z"/><path d="M858.24 246.12L867.59 262.42H848.89Z"/><path d="M859.56 246.12L868.91 262.42H850.21Z"/><path d="M860.85 246.12L870.2 262.42H851.5Z"/><path d="M862.14 246.12L871.49 262.42H852.79Z"/><path d="M863.41 246.12L872.76 262.42H854.06Z"/><path d="M864.66 246.12L874.01 262.42H855.31Z"/><path d="M865.91 246.12L875.26 262.42H856.56Z"/><path d="M867.14 246.12L876.49 262.42H857.79Z"/><path d="M868.36 246.12L877.71 262.42H859.01Z"/><path d="M869.56 246.12L878.91 262.42H860.21Z"/><path d="M870.76 246.11L880.11 262.41H861.41Z"/><path d="M871.94 246.11L881.29 262.41H862.59Z"/><path d="M873.11 246.11L882.46 262.41H863.76Z"/><path d="M874.27 246.11L883.62 262.41H864.92Z"/><path d="M875.41 246.11L884.76 262.41H866.06Z"/><path d="M876.55 246.11L885.9 262.41H867.2Z"/><path d="M877.68 246.11L887.03 262.41H868.33Z"/><path d="M878.79 246.11L888.14 262.41H869.44Z"/><path d="M879.9 246.11L889.25 262.41H870.55Z"/><path d="M880.99 246.11L890.34 262.41H871.64Z"/><path d="M882.08 246.11L891.43 262.41H872.73Z"/><path d="M883.15 246.11L892.5 262.41H873.8Z"/><path d="M884.22 246.11L893.57 262.41H874.87Z"/><path d="M885.27 246.11L894.62 262.41H875.92Z"/><path d="M886.32 246.11L895.67 262.41H876.97Z"/><path d="M887.36 246.11L896.71 262.41H878.01Z"/><path d="M888.38 246.11L897.73 262.41H879.03Z"/><path d="M889.4 246.11L898.75 262.41H880.05Z"/><path d="M890.41 246.11L899.76 262.41H881.06Z"/><path d="M891.42 246.11L900.77 262.41H882.07Z"/><path d="M892.41 246.11L901.76 262.41H883.06Z"/><path d="M893.4 246.1L902.75 262.4H884.05Z"/><path d="M894.38 246.1L903.73 262.4H885.03Z"/><path d="M895.35 246.1L904.7 262.4H886Z"/><path d="M896.31 246.1L905.66 262.4H886.96Z"/><path d="M897.26 246.1L906.61 262.4H887.91Z"/><path d="M898.21 246.1L907.56 262.4H888.86Z"/><path d="M899.15 246.1L908.5 262.4H889.8Z"/><path d="M900.08 246.1L909.43 262.4H890.73Z"/><path d="M901 246.1L910.35 262.4H891.65Z"/><path d="M901.92 246.1L911.27 262.4H892.57Z"/><path d="M902.83 246.1L912.18 262.4H893.48Z"/><path d="M903.74 246.1L913.09 262.4H894.39Z"/><path d="M904.63 246.1L913.98 262.4H895.28Z"/><path d="M905.52 246.1L914.87 262.4H896.17Z"/><path d="M906.41 246.1L915.76 262.4H897.06Z"/><path d="M907.28 246.1L916.63 262.4H897.93Z"/><path d="M908.15 246.1L917.5 262.4H898.8Z"/><path d="M909.02 246.1L918.37 262.4H899.67Z"/><path d="M909.87 246.1L919.22 262.4H900.52Z"/><path d="M910.73 246.1L920.08 262.4H901.38Z"/><path d="M911.57 246.1L920.92 262.4H902.22Z"/><path d="M912.41 246.1L921.76 262.4H903.06Z"/><path d="M913.25 246.1L922.6 262.4H903.9Z"/><path d="M914.07 246.1L923.42 262.4H904.72Z"/><path d="M914.9 246.1L924.25 262.4H905.55Z"/><path d="M915.71 246.1L925.06 262.4H906.36Z"/><path d="M916.52 246.1L925.87 262.4H907.17Z"/><path d="M917.33 246.1L926.68 262.4H907.98Z"/><path d="M918.13 246.1L927.48 262.4H908.78Z"/><path d="M918.93 246.1L928.28 262.4H909.58Z"/><path d="M919.71 246.1L929.06 262.4H910.36Z"/><path d="M920.5 246.1L929.85 262.4H911.15Z"/><path d="M921.28 246.1L930.63 262.4H911.93Z"/><path d="M922.05 246.1L931.4 262.4H912.7Z"/><path d="M922.82 246.1L932.17 262.4H913.47Z"/><path d="M923.59 246.1L932.94 262.4H914.24Z"/><path d="M924.35 246.1L933.7 262.4H915Z"/><path d="M925.1 246.1L934.45 262.4H915.75Z"/><path d="M925.85 246.1L935.2 262.4H916.5Z"/><path d="M926.6 246.1L935.95 262.4H917.25Z"/><path d="M927.34 246.1L936.69 262.4H917.99Z"/><path d="M928.07 246.1L937.42 262.4H918.72Z"/><path d="M928.8 246.1L938.15 262.4H919.45Z"/><path d="M929.53 246.1L938.88 262.4H920.18Z"/><path d="M930.25 246.09L939.6 262.39H920.9Z"/><path d="M930.97 246.09L940.32 262.39H921.62Z"/><path d="M931.68 246.09L941.03 262.39H922.33Z"/><path d="M932.39 246.09L941.74 262.39H923.04Z"/><path d="M933.1 246.09L942.45 262.39H923.75Z"/><path d="M933.8 246.09L943.15 262.39H924.45Z"/><path d="M934.5 246.09L943.85 262.39H925.15Z"/><path d="M935.19 246.09L944.54 262.39H925.84Z"/><path d="M935.88 246.09L945.23 262.39H926.53Z"/><path d="M936.56 246.09L945.91 262.39H927.21Z"/><path d="M937.25 246.09L946.6 262.39H927.9Z"/><path d="M937.92 246.09L947.27 262.39H928.57Z"/><path d="M938.6 246.09L947.95 262.39H929.25Z"/><path d="M939.27 246.09L948.62 262.39H929.92Z"/><path d="M939.93 246.09L949.28 262.39H930.58Z"/><path d="M940.59 246.09L949.94 262.39H931.24Z"/><path d="M941.25 246.09L950.6 262.39H931.9Z"/><path d="M941.91 246.09L951.26 262.39H932.56Z"/><path d="M942.56 246.09L951.91 262.39H933.21Z"/><path d="M943.21 246.09L952.56 262.39H933.86Z"/><path d="M943.85 246.09L953.2 262.39H934.5Z"/><path d="M944.49 246.09L953.84 262.39H935.14Z"/><path d="M945.13 246.09L954.48 262.39H935.78Z"/><path d="M945.76 246.09L955.11 262.39H936.41Z"/><path d="M946.39 246.09L955.74 262.39H937.04Z"/><path d="M947.02 246.09L956.37 262.39H937.67Z"/><path d="M947.65 246.09L957 262.39H938.3Z"/><path d="M948.27 246.09L957.62 262.39H938.92Z"/><path d="M948.88 246.09L958.23 262.39H939.53Z"/><path d="M949.5 246.09L958.85 262.39H940.15Z"/><path d="M950.11 246.09L959.46 262.39H940.76Z"/><path d="M950.72 246.09L960.07 262.39H941.37Z"/><path d="M951.32 246.09L960.67 262.39H941.97Z"/><path d="M951.92 246.09L961.27 262.39H942.57Z"/><path d="M952.52 246.09L961.87 262.39H943.17Z"/></g><path d="M131 443.93 L344.21 269.96 L416.34 260.94 L460.93 258.85 L493.29 258.06 L518.7 257.67 L539.63 257.46 L557.43 257.33 L572.9 257.24 L586.6 257.18 L598.87 257.14 L610 257.11 L620.18 257.08 L629.56 257.06 L638.24 257.05 L646.34 257.03 L653.92 257.02 L661.05 257.02 L667.78 257.01 L674.14 257 L680.18 257 L685.93 256.99 L691.42 256.99 L696.66 256.99 L701.68 256.98 L706.5 256.98 L711.13 256.98 L715.59 256.98 L719.89 256.97 L724.03 256.97 L728.04 256.97 L731.92 256.97 L735.67 256.97 L739.31 256.97 L742.84 256.97 L746.27 256.97 L749.6 256.96 L752.85 256.96 L756 256.96 L759.08 256.96 L762.08 256.96 L765 256.96 L767.85 256.96 L770.64 256.96 L773.36 256.96 L776.03 256.96 L778.63 256.96 L781.18 256.96 L783.67 256.96 L786.12 256.96 L788.51 256.96 L790.86 256.96 L793.16 256.96 L795.42 256.96 L797.63 256.96 L799.81 256.96 L801.95 256.96 L804.04 256.96 L806.11 256.96 L808.13 256.96 L810.13 256.96 L812.09 256.96 L814.02 256.96 L815.91 256.95 L817.78 256.95 L819.62 256.95 L821.43 256.95 L823.22 256.95 L824.97 256.95 L826.71 256.95 L828.41 256.95 L830.1 256.95 L831.76 256.95 L833.39 256.95 L835.01 256.95 L836.6 256.95 L838.17 256.95 L839.72 256.95 L841.26 256.95 L842.77 256.95 L844.26 256.95 L845.74 256.95 L847.19 256.95 L848.63 256.95 L850.05 256.95 L851.46 256.95 L852.85 256.95 L854.22 256.95 L855.58 256.95 L856.92 256.95 L858.24 256.95 L859.56 256.95 L860.85 256.95 L862.14 256.95 L863.41 256.95 L864.66 256.95 L865.91 256.95 L867.14 256.95 L868.36 256.95 L869.56 256.95 L870.76 256.95 L871.94 256.95 L873.11 256.95 L874.27 256.95 L875.41 256.95 L876.55 256.95 L877.68 256.95 L878.79 256.95 L879.9 256.95 L880.99 256.95 L882.08 256.95 L883.15 256.95 L884.22 256.95 L885.27 256.95 L886.32 256.95 L887.36 256.95 L888.38 256.95 L889.4 256.95 L890.41 256.95 L891.42 256.95 L892.41 256.95 L893.4 256.95 L894.38 256.95 L895.35 256.95 L896.31 256.95 L897.26 256.95 L898.21 256.95 L899.15 256.95 L900.08 256.95 L901 256.95 L901.92 256.95 L902.83 256.95 L903.74 256.95 L904.63 256.95 L905.52 256.95 L906.41 256.95 L907.28 256.95 L908.15 256.95 L909.02 256.95 L909.87 256.95 L910.73 256.95 L911.57 256.95 L912.41 256.95 L913.25 256.95 L914.07 256.95 L914.9 256.95 L915.71 256.95 L916.52 256.95 L917.33 256.95 L918.13 256.95 L918.93 256.95 L919.71 256.95 L920.5 256.95 L921.28 256.95 L922.05 256.95 L922.82 256.95 L923.59 256.95 L924.35 256.95 L925.1 256.95 L925.85 256.95 L926.6 256.95 L927.34 256.95 L928.07 256.95 L928.8 256.95 L929.53 256.95 L930.25 256.95 L930.97 256.95 L931.68 256.95 L932.39 256.95 L933.1 256.95 L933.8 256.95 L934.5 256.95 L935.19 256.95 L935.88 256.95 L936.56 256.95 L937.25 256.95 L937.92 256.95 L938.6 256.95 L939.27 256.95 L939.93 256.95 L940.59 256.95 L941.25 256.95 L941.91 256.95 L942.56 256.95 L943.21 256.95 L943.85 256.95 L944.49 256.95 L945.13 256.95 L945.76 256.95 L946.39 256.95 L947.02 256.95 L947.65 256.95 L948.27 256.95 L948.88 256.95 L949.5 256.95 L950.11 256.95 L950.72 256.95 L951.32 256.95 L951.92 256.95 L952.52 256.95" fill="none" stroke="#b54ea5" stroke-width="2.8" stroke-linejoin="round"/><g fill="#b54ea5"><path d="M131 454.8L140.35 438.5H121.65Z"/><path d="M344.21 280.83L353.56 264.53H334.86Z"/><path d="M416.34 271.81L425.69 255.51H406.99Z"/><path d="M460.93 269.72L470.28 253.42H451.58Z"/><path d="M493.29 268.92L502.64 252.62H483.94Z"/><path d="M518.7 268.54L528.05 252.24H509.35Z"/><path d="M539.63 268.33L548.98 252.03H530.28Z"/><path d="M557.43 268.19L566.78 251.89H548.08Z"/><path d="M572.9 268.11L582.25 251.81H563.55Z"/><path d="M586.6 268.05L595.95 251.75H577.25Z"/><path d="M598.87 268L608.22 251.7H589.52Z"/><path d="M610 267.97L619.35 251.67H600.65Z"/><path d="M620.18 267.95L629.53 251.65H610.83Z"/><path d="M629.56 267.93L638.91 251.63H620.21Z"/><path d="M638.24 267.91L647.59 251.61H628.89Z"/><path d="M646.34 267.9L655.69 251.6H636.99Z"/><path d="M653.92 267.89L663.27 251.59H644.57Z"/><path d="M661.05 267.88L670.4 251.58H651.7Z"/><path d="M667.78 267.88L677.13 251.58H658.43Z"/><path d="M674.14 267.87L683.49 251.57H664.79Z"/><path d="M680.18 267.86L689.53 251.56H670.83Z"/><path d="M685.93 267.86L695.28 251.56H676.58Z"/><path d="M691.42 267.86L700.77 251.56H682.07Z"/><path d="M696.66 267.85L706.01 251.55H687.31Z"/><path d="M701.68 267.85L711.03 251.55H692.33Z"/><path d="M706.5 267.85L715.85 251.55H697.15Z"/><path d="M711.13 267.85L720.48 251.55H701.78Z"/><path d="M715.59 267.84L724.94 251.54H706.24Z"/><path d="M719.89 267.84L729.24 251.54H710.54Z"/><path d="M724.03 267.84L733.38 251.54H714.68Z"/><path d="M728.04 267.84L737.39 251.54H718.69Z"/><path d="M731.92 267.84L741.27 251.54H722.57Z"/><path d="M735.67 267.84L745.02 251.54H726.32Z"/><path d="M739.31 267.83L748.66 251.53H729.96Z"/><path d="M742.84 267.83L752.19 251.53H733.49Z"/><path d="M746.27 267.83L755.62 251.53H736.92Z"/><path d="M749.6 267.83L758.95 251.53H740.25Z"/><path d="M752.85 267.83L762.2 251.53H743.5Z"/><path d="M756 267.83L765.35 251.53H746.65Z"/><path d="M759.08 267.83L768.43 251.53H749.73Z"/><path d="M762.08 267.83L771.43 251.53H752.73Z"/><path d="M765 267.83L774.35 251.53H755.65Z"/><path d="M767.85 267.83L777.2 251.53H758.5Z"/><path d="M770.64 267.83L779.99 251.53H761.29Z"/><path d="M773.36 267.83L782.71 251.53H764.01Z"/><path d="M776.03 267.83L785.38 251.53H766.68Z"/><path d="M778.63 267.83L787.98 251.53H769.28Z"/><path d="M781.18 267.83L790.53 251.53H771.83Z"/><path d="M783.67 267.83L793.02 251.53H774.32Z"/><path d="M786.12 267.82L795.47 251.52H776.77Z"/><path d="M788.51 267.82L797.86 251.52H779.16Z"/><path d="M790.86 267.82L800.21 251.52H781.51Z"/><path d="M793.16 267.82L802.51 251.52H783.81Z"/><path d="M795.42 267.82L804.77 251.52H786.07Z"/><path d="M797.63 267.82L806.98 251.52H788.28Z"/><path d="M799.81 267.82L809.16 251.52H790.46Z"/><path d="M801.95 267.82L811.3 251.52H792.6Z"/><path d="M804.04 267.82L813.39 251.52H794.69Z"/><path d="M806.11 267.82L815.46 251.52H796.76Z"/><path d="M808.13 267.82L817.48 251.52H798.78Z"/><path d="M810.13 267.82L819.48 251.52H800.78Z"/><path d="M812.09 267.82L821.44 251.52H802.74Z"/><path d="M814.02 267.82L823.37 251.52H804.67Z"/><path d="M815.91 267.82L825.26 251.52H806.56Z"/><path d="M817.78 267.82L827.13 251.52H808.43Z"/><path d="M819.62 267.82L828.97 251.52H810.27Z"/><path d="M821.43 267.82L830.78 251.52H812.08Z"/><path d="M823.22 267.82L832.57 251.52H813.87Z"/><path d="M824.97 267.82L834.32 251.52H815.62Z"/><path d="M826.71 267.82L836.06 251.52H817.36Z"/><path d="M828.41 267.82L837.76 251.52H819.06Z"/><path d="M830.1 267.82L839.45 251.52H820.75Z"/><path d="M831.76 267.82L841.11 251.52H822.41Z"/><path d="M833.39 267.82L842.74 251.52H824.04Z"/><path d="M835.01 267.82L844.36 251.52H825.66Z"/><path d="M836.6 267.82L845.95 251.52H827.25Z"/><path d="M838.17 267.82L847.52 251.52H828.82Z"/><path d="M839.72 267.82L849.07 251.52H830.37Z"/><path d="M841.26 267.82L850.61 251.52H831.91Z"/><path d="M842.77 267.82L852.12 251.52H833.42Z"/><path d="M844.26 267.82L853.61 251.52H834.91Z"/><path d="M845.74 267.82L855.09 251.52H836.39Z"/><path d="M847.19 267.82L856.54 251.52H837.84Z"/><path d="M848.63 267.82L857.98 251.52H839.28Z"/><path d="M850.05 267.82L859.4 251.52H840.7Z"/><path d="M851.46 267.82L860.81 251.52H842.11Z"/><path d="M852.85 267.82L862.2 251.52H843.5Z"/><path d="M854.22 267.82L863.57 251.52H844.87Z"/><path d="M855.58 267.82L864.93 251.52H846.23Z"/><path d="M856.92 267.82L866.27 251.52H847.57Z"/><path d="M858.24 267.82L867.59 251.52H848.89Z"/><path d="M859.56 267.82L868.91 251.52H850.21Z"/><path d="M860.85 267.82L870.2 251.52H851.5Z"/><path d="M862.14 267.82L871.49 251.52H852.79Z"/><path d="M863.41 267.82L872.76 251.52H854.06Z"/><path d="M864.66 267.82L874.01 251.52H855.31Z"/><path d="M865.91 267.82L875.26 251.52H856.56Z"/><path d="M867.14 267.82L876.49 251.52H857.79Z"/><path d="M868.36 267.82L877.71 251.52H859.01Z"/><path d="M869.56 267.82L878.91 251.52H860.21Z"/><path d="M870.76 267.82L880.11 251.52H861.41Z"/><path d="M871.94 267.82L881.29 251.52H862.59Z"/><path d="M873.11 267.82L882.46 251.52H863.76Z"/><path d="M874.27 267.82L883.62 251.52H864.92Z"/><path d="M875.41 267.82L884.76 251.52H866.06Z"/><path d="M876.55 267.82L885.9 251.52H867.2Z"/><path d="M877.68 267.82L887.03 251.52H868.33Z"/><path d="M878.79 267.82L888.14 251.52H869.44Z"/><path d="M879.9 267.82L889.25 251.52H870.55Z"/><path d="M880.99 267.82L890.34 251.52H871.64Z"/><path d="M882.08 267.82L891.43 251.52H872.73Z"/><path d="M883.15 267.82L892.5 251.52H873.8Z"/><path d="M884.22 267.82L893.57 251.52H874.87Z"/><path d="M885.27 267.82L894.62 251.52H875.92Z"/><path d="M886.32 267.82L895.67 251.52H876.97Z"/><path d="M887.36 267.82L896.71 251.52H878.01Z"/><path d="M888.38 267.82L897.73 251.52H879.03Z"/><path d="M889.4 267.82L898.75 251.52H880.05Z"/><path d="M890.41 267.82L899.76 251.52H881.06Z"/><path d="M891.42 267.82L900.77 251.52H882.07Z"/><path d="M892.41 267.82L901.76 251.52H883.06Z"/><path d="M893.4 267.82L902.75 251.52H884.05Z"/><path d="M894.38 267.82L903.73 251.52H885.03Z"/><path d="M895.35 267.82L904.7 251.52H886Z"/><path d="M896.31 267.82L905.66 251.52H886.96Z"/><path d="M897.26 267.82L906.61 251.52H887.91Z"/><path d="M898.21 267.82L907.56 251.52H888.86Z"/><path d="M899.15 267.82L908.5 251.52H889.8Z"/><path d="M900.08 267.82L909.43 251.52H890.73Z"/><path d="M901 267.82L910.35 251.52H891.65Z"/><path d="M901.92 267.82L911.27 251.52H892.57Z"/><path d="M902.83 267.82L912.18 251.52H893.48Z"/><path d="M903.74 267.82L913.09 251.52H894.39Z"/><path d="M904.63 267.82L913.98 251.52H895.28Z"/><path d="M905.52 267.82L914.87 251.52H896.17Z"/><path d="M906.41 267.82L915.76 251.52H897.06Z"/><path d="M907.28 267.82L916.63 251.52H897.93Z"/><path d="M908.15 267.82L917.5 251.52H898.8Z"/><path d="M909.02 267.82L918.37 251.52H899.67Z"/><path d="M909.87 267.82L919.22 251.52H900.52Z"/><path d="M910.73 267.82L920.08 251.52H901.38Z"/><path d="M911.57 267.82L920.92 251.52H902.22Z"/><path d="M912.41 267.82L921.76 251.52H903.06Z"/><path d="M913.25 267.82L922.6 251.52H903.9Z"/><path d="M914.07 267.82L923.42 251.52H904.72Z"/><path d="M914.9 267.82L924.25 251.52H905.55Z"/><path d="M915.71 267.82L925.06 251.52H906.36Z"/><path d="M916.52 267.82L925.87 251.52H907.17Z"/><path d="M917.33 267.82L926.68 251.52H907.98Z"/><path d="M918.13 267.82L927.48 251.52H908.78Z"/><path d="M918.93 267.82L928.28 251.52H909.58Z"/><path d="M919.71 267.82L929.06 251.52H910.36Z"/><path d="M920.5 267.82L929.85 251.52H911.15Z"/><path d="M921.28 267.82L930.63 251.52H911.93Z"/><path d="M922.05 267.82L931.4 251.52H912.7Z"/><path d="M922.82 267.82L932.17 251.52H913.47Z"/><path d="M923.59 267.82L932.94 251.52H914.24Z"/><path d="M924.35 267.82L933.7 251.52H915Z"/><path d="M925.1 267.82L934.45 251.52H915.75Z"/><path d="M925.85 267.82L935.2 251.52H916.5Z"/><path d="M926.6 267.82L935.95 251.52H917.25Z"/><path d="M927.34 267.82L936.69 251.52H917.99Z"/><path d="M928.07 267.82L937.42 251.52H918.72Z"/><path d="M928.8 267.82L938.15 251.52H919.45Z"/><path d="M929.53 267.82L938.88 251.52H920.18Z"/><path d="M930.25 267.82L939.6 251.52H920.9Z"/><path d="M930.97 267.82L940.32 251.52H921.62Z"/><path d="M931.68 267.82L941.03 251.52H922.33Z"/><path d="M932.39 267.82L941.74 251.52H923.04Z"/><path d="M933.1 267.82L942.45 251.52H923.75Z"/><path d="M933.8 267.82L943.15 251.52H924.45Z"/><path d="M934.5 267.82L943.85 251.52H925.15Z"/><path d="M935.19 267.82L944.54 251.52H925.84Z"/><path d="M935.88 267.82L945.23 251.52H926.53Z"/><path d="M936.56 267.82L945.91 251.52H927.21Z"/><path d="M937.25 267.82L946.6 251.52H927.9Z"/><path d="M937.92 267.82L947.27 251.52H928.57Z"/><path d="M938.6 267.82L947.95 251.52H929.25Z"/><path d="M939.27 267.82L948.62 251.52H929.92Z"/><path d="M939.93 267.82L949.28 251.52H930.58Z"/><path d="M940.59 267.82L949.94 251.52H931.24Z"/><path d="M941.25 267.82L950.6 251.52H931.9Z"/><path d="M941.91 267.82L951.26 251.52H932.56Z"/><path d="M942.56 267.82L951.91 251.52H933.21Z"/><path d="M943.21 267.82L952.56 251.52H933.86Z"/><path d="M943.85 267.82L953.2 251.52H934.5Z"/><path d="M944.49 267.82L953.84 251.52H935.14Z"/><path d="M945.13 267.82L954.48 251.52H935.78Z"/><path d="M945.76 267.82L955.11 251.52H936.41Z"/><path d="M946.39 267.82L955.74 251.52H937.04Z"/><path d="M947.02 267.82L956.37 251.52H937.67Z"/><path d="M947.65 267.82L957 251.52H938.3Z"/><path d="M948.27 267.82L957.62 251.52H938.92Z"/><path d="M948.88 267.82L958.23 251.52H939.53Z"/><path d="M949.5 267.82L958.85 251.52H940.15Z"/><path d="M950.11 267.82L959.46 251.52H940.76Z"/><path d="M950.72 267.82L960.07 251.52H941.37Z"/><path d="M951.32 267.82L960.67 251.52H941.97Z"/><path d="M951.92 267.82L961.27 251.52H942.57Z"/><path d="M952.52 267.82L961.87 251.52H943.17Z"/></g><path d="M131 284.58 L344.21 257.79 L416.34 257.2 L460.93 257.07 L493.29 257.02 L518.7 256.99 L539.63 256.98 L557.43 256.97 L572.9 256.97 L586.6 256.96 L598.87 256.96 L610 256.96 L620.18 256.96 L629.56 256.96 L638.24 256.96 L646.34 256.96 L653.92 256.95 L661.05 256.95 L667.78 256.95 L674.14 256.95 L680.18 256.95 L685.93 256.95 L691.42 256.95 L696.66 256.95 L701.68 256.95 L706.5 256.95 L711.13 256.95 L715.59 256.95 L719.89 256.95 L724.03 256.95 L728.04 256.95 L731.92 256.95 L735.67 256.95 L739.31 256.95 L742.84 256.95 L746.27 256.95 L749.6 256.95 L752.85 256.95 L756 256.95 L759.08 256.95 L762.08 256.95 L765 256.95 L767.85 256.95 L770.64 256.95 L773.36 256.95 L776.03 256.95 L778.63 256.95 L781.18 256.95 L783.67 256.95 L786.12 256.95 L788.51 256.95 L790.86 256.95 L793.16 256.95 L795.42 256.95 L797.63 256.95 L799.81 256.95 L801.95 256.95 L804.04 256.95 L806.11 256.95 L808.13 256.95 L810.13 256.95 L812.09 256.95 L814.02 256.95 L815.91 256.95 L817.78 256.95 L819.62 256.95 L821.43 256.95 L823.22 256.95 L824.97 256.95 L826.71 256.95 L828.41 256.95 L830.1 256.95 L831.76 256.95 L833.39 256.95 L835.01 256.95 L836.6 256.95 L838.17 256.95 L839.72 256.95 L841.26 256.95 L842.77 256.95 L844.26 256.95 L845.74 256.95 L847.19 256.95 L848.63 256.95 L850.05 256.95 L851.46 256.95 L852.85 256.95 L854.22 256.95 L855.58 256.95 L856.92 256.95 L858.24 256.95 L859.56 256.95 L860.85 256.95 L862.14 256.95 L863.41 256.95 L864.66 256.95 L865.91 256.95 L867.14 256.95 L868.36 256.95 L869.56 256.95 L870.76 256.95 L871.94 256.95 L873.11 256.95 L874.27 256.95 L875.41 256.95 L876.55 256.95 L877.68 256.95 L878.79 256.95 L879.9 256.95 L880.99 256.95 L882.08 256.95 L883.15 256.95 L884.22 256.95 L885.27 256.95 L886.32 256.95 L887.36 256.95 L888.38 256.95 L889.4 256.95 L890.41 256.95 L891.42 256.95 L892.41 256.95 L893.4 256.95 L894.38 256.95 L895.35 256.95 L896.31 256.95 L897.26 256.95 L898.21 256.95 L899.15 256.95 L900.08 256.95 L901 256.95 L901.92 256.95 L902.83 256.95 L903.74 256.95 L904.63 256.95 L905.52 256.95 L906.41 256.95 L907.28 256.95 L908.15 256.95 L909.02 256.95 L909.87 256.95 L910.73 256.95 L911.57 256.95 L912.41 256.95 L913.25 256.95 L914.07 256.95 L914.9 256.95 L915.71 256.95 L916.52 256.95 L917.33 256.95 L918.13 256.95 L918.93 256.95 L919.71 256.95 L920.5 256.95 L921.28 256.95 L922.05 256.95 L922.82 256.95 L923.59 256.95 L924.35 256.95 L925.1 256.95 L925.85 256.95 L926.6 256.95 L927.34 256.95 L928.07 256.95 L928.8 256.95 L929.53 256.95 L930.25 256.95 L930.97 256.95 L931.68 256.95 L932.39 256.95 L933.1 256.95 L933.8 256.95 L934.5 256.95 L935.19 256.95 L935.88 256.95 L936.56 256.95 L937.25 256.95 L937.92 256.95 L938.6 256.95 L939.27 256.95 L939.93 256.95 L940.59 256.95 L941.25 256.95 L941.91 256.95 L942.56 256.95 L943.21 256.95 L943.85 256.95 L944.49 256.95 L945.13 256.95 L945.76 256.95 L946.39 256.95 L947.02 256.95 L947.65 256.95 L948.27 256.95 L948.88 256.95 L949.5 256.95 L950.11 256.95 L950.72 256.95 L951.32 256.95 L951.92 256.95 L952.52 256.95" fill="none" stroke="#14803c" stroke-width="2.8" stroke-linejoin="round"/><g fill="#14803c"><path d="M131 274.58L141 284.58L131 294.58L121 284.58Z"/><path d="M344.21 247.79L354.21 257.79L344.21 267.79L334.21 257.79Z"/><path d="M416.34 247.2L426.34 257.2L416.34 267.2L406.34 257.2Z"/><path d="M460.93 247.07L470.93 257.07L460.93 267.07L450.93 257.07Z"/><path d="M493.29 247.02L503.29 257.02L493.29 267.02L483.29 257.02Z"/><path d="M518.7 246.99L528.7 256.99L518.7 266.99L508.7 256.99Z"/><path d="M539.63 246.98L549.63 256.98L539.63 266.98L529.63 256.98Z"/><path d="M557.43 246.97L567.43 256.97L557.43 266.97L547.43 256.97Z"/><path d="M572.9 246.97L582.9 256.97L572.9 266.97L562.9 256.97Z"/><path d="M586.6 246.96L596.6 256.96L586.6 266.96L576.6 256.96Z"/><path d="M598.87 246.96L608.87 256.96L598.87 266.96L588.87 256.96Z"/><path d="M610 246.96L620 256.96L610 266.96L600 256.96Z"/><path d="M620.18 246.96L630.18 256.96L620.18 266.96L610.18 256.96Z"/><path d="M629.56 246.96L639.56 256.96L629.56 266.96L619.56 256.96Z"/><path d="M638.24 246.96L648.24 256.96L638.24 266.96L628.24 256.96Z"/><path d="M646.34 246.96L656.34 256.96L646.34 266.96L636.34 256.96Z"/><path d="M653.92 246.95L663.92 256.95L653.92 266.95L643.92 256.95Z"/><path d="M661.05 246.95L671.05 256.95L661.05 266.95L651.05 256.95Z"/><path d="M667.78 246.95L677.78 256.95L667.78 266.95L657.78 256.95Z"/><path d="M674.14 246.95L684.14 256.95L674.14 266.95L664.14 256.95Z"/><path d="M680.18 246.95L690.18 256.95L680.18 266.95L670.18 256.95Z"/><path d="M685.93 246.95L695.93 256.95L685.93 266.95L675.93 256.95Z"/><path d="M691.42 246.95L701.42 256.95L691.42 266.95L681.42 256.95Z"/><path d="M696.66 246.95L706.66 256.95L696.66 266.95L686.66 256.95Z"/><path d="M701.68 246.95L711.68 256.95L701.68 266.95L691.68 256.95Z"/><path d="M706.5 246.95L716.5 256.95L706.5 266.95L696.5 256.95Z"/><path d="M711.13 246.95L721.13 256.95L711.13 266.95L701.13 256.95Z"/><path d="M715.59 246.95L725.59 256.95L715.59 266.95L705.59 256.95Z"/><path d="M719.89 246.95L729.89 256.95L719.89 266.95L709.89 256.95Z"/><path d="M724.03 246.95L734.03 256.95L724.03 266.95L714.03 256.95Z"/><path d="M728.04 246.95L738.04 256.95L728.04 266.95L718.04 256.95Z"/><path d="M731.92 246.95L741.92 256.95L731.92 266.95L721.92 256.95Z"/><path d="M735.67 246.95L745.67 256.95L735.67 266.95L725.67 256.95Z"/><path d="M739.31 246.95L749.31 256.95L739.31 266.95L729.31 256.95Z"/><path d="M742.84 246.95L752.84 256.95L742.84 266.95L732.84 256.95Z"/><path d="M746.27 246.95L756.27 256.95L746.27 266.95L736.27 256.95Z"/><path d="M749.6 246.95L759.6 256.95L749.6 266.95L739.6 256.95Z"/><path d="M752.85 246.95L762.85 256.95L752.85 266.95L742.85 256.95Z"/><path d="M756 246.95L766 256.95L756 266.95L746 256.95Z"/><path d="M759.08 246.95L769.08 256.95L759.08 266.95L749.08 256.95Z"/><path d="M762.08 246.95L772.08 256.95L762.08 266.95L752.08 256.95Z"/><path d="M765 246.95L775 256.95L765 266.95L755 256.95Z"/><path d="M767.85 246.95L777.85 256.95L767.85 266.95L757.85 256.95Z"/><path d="M770.64 246.95L780.64 256.95L770.64 266.95L760.64 256.95Z"/><path d="M773.36 246.95L783.36 256.95L773.36 266.95L763.36 256.95Z"/><path d="M776.03 246.95L786.03 256.95L776.03 266.95L766.03 256.95Z"/><path d="M778.63 246.95L788.63 256.95L778.63 266.95L768.63 256.95Z"/><path d="M781.18 246.95L791.18 256.95L781.18 266.95L771.18 256.95Z"/><path d="M783.67 246.95L793.67 256.95L783.67 266.95L773.67 256.95Z"/><path d="M786.12 246.95L796.12 256.95L786.12 266.95L776.12 256.95Z"/><path d="M788.51 246.95L798.51 256.95L788.51 266.95L778.51 256.95Z"/><path d="M790.86 246.95L800.86 256.95L790.86 266.95L780.86 256.95Z"/><path d="M793.16 246.95L803.16 256.95L793.16 266.95L783.16 256.95Z"/><path d="M795.42 246.95L805.42 256.95L795.42 266.95L785.42 256.95Z"/><path d="M797.63 246.95L807.63 256.95L797.63 266.95L787.63 256.95Z"/><path d="M799.81 246.95L809.81 256.95L799.81 266.95L789.81 256.95Z"/><path d="M801.95 246.95L811.95 256.95L801.95 266.95L791.95 256.95Z"/><path d="M804.04 246.95L814.04 256.95L804.04 266.95L794.04 256.95Z"/><path d="M806.11 246.95L816.11 256.95L806.11 266.95L796.11 256.95Z"/><path d="M808.13 246.95L818.13 256.95L808.13 266.95L798.13 256.95Z"/><path d="M810.13 246.95L820.13 256.95L810.13 266.95L800.13 256.95Z"/><path d="M812.09 246.95L822.09 256.95L812.09 266.95L802.09 256.95Z"/><path d="M814.02 246.95L824.02 256.95L814.02 266.95L804.02 256.95Z"/><path d="M815.91 246.95L825.91 256.95L815.91 266.95L805.91 256.95Z"/><path d="M817.78 246.95L827.78 256.95L817.78 266.95L807.78 256.95Z"/><path d="M819.62 246.95L829.62 256.95L819.62 266.95L809.62 256.95Z"/><path d="M821.43 246.95L831.43 256.95L821.43 266.95L811.43 256.95Z"/><path d="M823.22 246.95L833.22 256.95L823.22 266.95L813.22 256.95Z"/><path d="M824.97 246.95L834.97 256.95L824.97 266.95L814.97 256.95Z"/><path d="M826.71 246.95L836.71 256.95L826.71 266.95L816.71 256.95Z"/><path d="M828.41 246.95L838.41 256.95L828.41 266.95L818.41 256.95Z"/><path d="M830.1 246.95L840.1 256.95L830.1 266.95L820.1 256.95Z"/><path d="M831.76 246.95L841.76 256.95L831.76 266.95L821.76 256.95Z"/><path d="M833.39 246.95L843.39 256.95L833.39 266.95L823.39 256.95Z"/><path d="M835.01 246.95L845.01 256.95L835.01 266.95L825.01 256.95Z"/><path d="M836.6 246.95L846.6 256.95L836.6 266.95L826.6 256.95Z"/><path d="M838.17 246.95L848.17 256.95L838.17 266.95L828.17 256.95Z"/><path d="M839.72 246.95L849.72 256.95L839.72 266.95L829.72 256.95Z"/><path d="M841.26 246.95L851.26 256.95L841.26 266.95L831.26 256.95Z"/><path d="M842.77 246.95L852.77 256.95L842.77 266.95L832.77 256.95Z"/><path d="M844.26 246.95L854.26 256.95L844.26 266.95L834.26 256.95Z"/><path d="M845.74 246.95L855.74 256.95L845.74 266.95L835.74 256.95Z"/><path d="M847.19 246.95L857.19 256.95L847.19 266.95L837.19 256.95Z"/><path d="M848.63 246.95L858.63 256.95L848.63 266.95L838.63 256.95Z"/><path d="M850.05 246.95L860.05 256.95L850.05 266.95L840.05 256.95Z"/><path d="M851.46 246.95L861.46 256.95L851.46 266.95L841.46 256.95Z"/><path d="M852.85 246.95L862.85 256.95L852.85 266.95L842.85 256.95Z"/><path d="M854.22 246.95L864.22 256.95L854.22 266.95L844.22 256.95Z"/><path d="M855.58 246.95L865.58 256.95L855.58 266.95L845.58 256.95Z"/><path d="M856.92 246.95L866.92 256.95L856.92 266.95L846.92 256.95Z"/><path d="M858.24 246.95L868.24 256.95L858.24 266.95L848.24 256.95Z"/><path d="M859.56 246.95L869.56 256.95L859.56 266.95L849.56 256.95Z"/><path d="M860.85 246.95L870.85 256.95L860.85 266.95L850.85 256.95Z"/><path d="M862.14 246.95L872.14 256.95L862.14 266.95L852.14 256.95Z"/><path d="M863.41 246.95L873.41 256.95L863.41 266.95L853.41 256.95Z"/><path d="M864.66 246.95L874.66 256.95L864.66 266.95L854.66 256.95Z"/><path d="M865.91 246.95L875.91 256.95L865.91 266.95L855.91 256.95Z"/><path d="M867.14 246.95L877.14 256.95L867.14 266.95L857.14 256.95Z"/><path d="M868.36 246.95L878.36 256.95L868.36 266.95L858.36 256.95Z"/><path d="M869.56 246.95L879.56 256.95L869.56 266.95L859.56 256.95Z"/><path d="M870.76 246.95L880.76 256.95L870.76 266.95L860.76 256.95Z"/><path d="M871.94 246.95L881.94 256.95L871.94 266.95L861.94 256.95Z"/><path d="M873.11 246.95L883.11 256.95L873.11 266.95L863.11 256.95Z"/><path d="M874.27 246.95L884.27 256.95L874.27 266.95L864.27 256.95Z"/><path d="M875.41 246.95L885.41 256.95L875.41 266.95L865.41 256.95Z"/><path d="M876.55 246.95L886.55 256.95L876.55 266.95L866.55 256.95Z"/><path d="M877.68 246.95L887.68 256.95L877.68 266.95L867.68 256.95Z"/><path d="M878.79 246.95L888.79 256.95L878.79 266.95L868.79 256.95Z"/><path d="M879.9 246.95L889.9 256.95L879.9 266.95L869.9 256.95Z"/><path d="M880.99 246.95L890.99 256.95L880.99 266.95L870.99 256.95Z"/><path d="M882.08 246.95L892.08 256.95L882.08 266.95L872.08 256.95Z"/><path d="M883.15 246.95L893.15 256.95L883.15 266.95L873.15 256.95Z"/><path d="M884.22 246.95L894.22 256.95L884.22 266.95L874.22 256.95Z"/><path d="M885.27 246.95L895.27 256.95L885.27 266.95L875.27 256.95Z"/><path d="M886.32 246.95L896.32 256.95L886.32 266.95L876.32 256.95Z"/><path d="M887.36 246.95L897.36 256.95L887.36 266.95L877.36 256.95Z"/><path d="M888.38 246.95L898.38 256.95L888.38 266.95L878.38 256.95Z"/><path d="M889.4 246.95L899.4 256.95L889.4 266.95L879.4 256.95Z"/><path d="M890.41 246.95L900.41 256.95L890.41 266.95L880.41 256.95Z"/><path d="M891.42 246.95L901.42 256.95L891.42 266.95L881.42 256.95Z"/><path d="M892.41 246.95L902.41 256.95L892.41 266.95L882.41 256.95Z"/><path d="M893.4 246.95L903.4 256.95L893.4 266.95L883.4 256.95Z"/><path d="M894.38 246.95L904.38 256.95L894.38 266.95L884.38 256.95Z"/><path d="M895.35 246.95L905.35 256.95L895.35 266.95L885.35 256.95Z"/><path d="M896.31 246.95L906.31 256.95L896.31 266.95L886.31 256.95Z"/><path d="M897.26 246.95L907.26 256.95L897.26 266.95L887.26 256.95Z"/><path d="M898.21 246.95L908.21 256.95L898.21 266.95L888.21 256.95Z"/><path d="M899.15 246.95L909.15 256.95L899.15 266.95L889.15 256.95Z"/><path d="M900.08 246.95L910.08 256.95L900.08 266.95L890.08 256.95Z"/><path d="M901 246.95L911 256.95L901 266.95L891 256.95Z"/><path d="M901.92 246.95L911.92 256.95L901.92 266.95L891.92 256.95Z"/><path d="M902.83 246.95L912.83 256.95L902.83 266.95L892.83 256.95Z"/><path d="M903.74 246.95L913.74 256.95L903.74 266.95L893.74 256.95Z"/><path d="M904.63 246.95L914.63 256.95L904.63 266.95L894.63 256.95Z"/><path d="M905.52 246.95L915.52 256.95L905.52 266.95L895.52 256.95Z"/><path d="M906.41 246.95L916.41 256.95L906.41 266.95L896.41 256.95Z"/><path d="M907.28 246.95L917.28 256.95L907.28 266.95L897.28 256.95Z"/><path d="M908.15 246.95L918.15 256.95L908.15 266.95L898.15 256.95Z"/><path d="M909.02 246.95L919.02 256.95L909.02 266.95L899.02 256.95Z"/><path d="M909.87 246.95L919.87 256.95L909.87 266.95L899.87 256.95Z"/><path d="M910.73 246.95L920.73 256.95L910.73 266.95L900.73 256.95Z"/><path d="M911.57 246.95L921.57 256.95L911.57 266.95L901.57 256.95Z"/><path d="M912.41 246.95L922.41 256.95L912.41 266.95L902.41 256.95Z"/><path d="M913.25 246.95L923.25 256.95L913.25 266.95L903.25 256.95Z"/><path d="M914.07 246.95L924.07 256.95L914.07 266.95L904.07 256.95Z"/><path d="M914.9 246.95L924.9 256.95L914.9 266.95L904.9 256.95Z"/><path d="M915.71 246.95L925.71 256.95L915.71 266.95L905.71 256.95Z"/><path d="M916.52 246.95L926.52 256.95L916.52 266.95L906.52 256.95Z"/><path d="M917.33 246.95L927.33 256.95L917.33 266.95L907.33 256.95Z"/><path d="M918.13 246.95L928.13 256.95L918.13 266.95L908.13 256.95Z"/><path d="M918.93 246.95L928.93 256.95L918.93 266.95L908.93 256.95Z"/><path d="M919.71 246.95L929.71 256.95L919.71 266.95L909.71 256.95Z"/><path d="M920.5 246.95L930.5 256.95L920.5 266.95L910.5 256.95Z"/><path d="M921.28 246.95L931.28 256.95L921.28 266.95L911.28 256.95Z"/><path d="M922.05 246.95L932.05 256.95L922.05 266.95L912.05 256.95Z"/><path d="M922.82 246.95L932.82 256.95L922.82 266.95L912.82 256.95Z"/><path d="M923.59 246.95L933.59 256.95L923.59 266.95L913.59 256.95Z"/><path d="M924.35 246.95L934.35 256.95L924.35 266.95L914.35 256.95Z"/><path d="M925.1 246.95L935.1 256.95L925.1 266.95L915.1 256.95Z"/><path d="M925.85 246.95L935.85 256.95L925.85 266.95L915.85 256.95Z"/><path d="M926.6 246.95L936.6 256.95L926.6 266.95L916.6 256.95Z"/><path d="M927.34 246.95L937.34 256.95L927.34 266.95L917.34 256.95Z"/><path d="M928.07 246.95L938.07 256.95L928.07 266.95L918.07 256.95Z"/><path d="M928.8 246.95L938.8 256.95L928.8 266.95L918.8 256.95Z"/><path d="M929.53 246.95L939.53 256.95L929.53 266.95L919.53 256.95Z"/><path d="M930.25 246.95L940.25 256.95L930.25 266.95L920.25 256.95Z"/><path d="M930.97 246.95L940.97 256.95L930.97 266.95L920.97 256.95Z"/><path d="M931.68 246.95L941.68 256.95L931.68 266.95L921.68 256.95Z"/><path d="M932.39 246.95L942.39 256.95L932.39 266.95L922.39 256.95Z"/><path d="M933.1 246.95L943.1 256.95L933.1 266.95L923.1 256.95Z"/><path d="M933.8 246.95L943.8 256.95L933.8 266.95L923.8 256.95Z"/><path d="M934.5 246.95L944.5 256.95L934.5 266.95L924.5 256.95Z"/><path d="M935.19 246.95L945.19 256.95L935.19 266.95L925.19 256.95Z"/><path d="M935.88 246.95L945.88 256.95L935.88 266.95L925.88 256.95Z"/><path d="M936.56 246.95L946.56 256.95L936.56 266.95L926.56 256.95Z"/><path d="M937.25 246.95L947.25 256.95L937.25 266.95L927.25 256.95Z"/><path d="M937.92 246.95L947.92 256.95L937.92 266.95L927.92 256.95Z"/><path d="M938.6 246.95L948.6 256.95L938.6 266.95L928.6 256.95Z"/><path d="M939.27 246.95L949.27 256.95L939.27 266.95L929.27 256.95Z"/><path d="M939.93 246.95L949.93 256.95L939.93 266.95L929.93 256.95Z"/><path d="M940.59 246.95L950.59 256.95L940.59 266.95L930.59 256.95Z"/><path d="M941.25 246.95L951.25 256.95L941.25 266.95L931.25 256.95Z"/><path d="M941.91 246.95L951.91 256.95L941.91 266.95L931.91 256.95Z"/><path d="M942.56 246.95L952.56 256.95L942.56 266.95L932.56 256.95Z"/><path d="M943.21 246.95L953.21 256.95L943.21 266.95L933.21 256.95Z"/><path d="M943.85 246.95L953.85 256.95L943.85 266.95L933.85 256.95Z"/><path d="M944.49 246.95L954.49 256.95L944.49 266.95L934.49 256.95Z"/><path d="M945.13 246.95L955.13 256.95L945.13 266.95L935.13 256.95Z"/><path d="M945.76 246.95L955.76 256.95L945.76 266.95L935.76 256.95Z"/><path d="M946.39 246.95L956.39 256.95L946.39 266.95L936.39 256.95Z"/><path d="M947.02 246.95L957.02 256.95L947.02 266.95L937.02 256.95Z"/><path d="M947.65 246.95L957.65 256.95L947.65 266.95L937.65 256.95Z"/><path d="M948.27 246.95L958.27 256.95L948.27 266.95L938.27 256.95Z"/><path d="M948.88 246.95L958.88 256.95L948.88 266.95L938.88 256.95Z"/><path d="M949.5 246.95L959.5 256.95L949.5 266.95L939.5 256.95Z"/><path d="M950.11 246.95L960.11 256.95L950.11 266.95L940.11 256.95Z"/><path d="M950.72 246.95L960.72 256.95L950.72 266.95L940.72 256.95Z"/><path d="M951.32 246.95L961.32 256.95L951.32 266.95L941.32 256.95Z"/><path d="M951.92 246.95L961.92 256.95L951.92 266.95L941.92 256.95Z"/><path d="M952.52 246.95L962.52 256.95L952.52 266.95L942.52 256.95Z"/></g><path d="M131 559.4 L344.21 555.75 L416.34 547.12 L460.93 534.03 L493.29 517.21 L518.7 497.52 L539.63 475.84 L557.43 453 L572.9 429.73 L586.6 406.6 L598.87 384.07 L610 362.47 L620.18 341.99 L629.56 322.77 L638.24 304.85 L646.34 288.23 L653.92 272.88 L661.05 258.74 L667.78 245.75 L674.14 233.82 L680.18 222.87 L685.93 212.83 L691.42 203.61 L696.66 195.15 L701.68 187.38 L706.5 180.23 L711.13 173.65 L715.59 167.59 L719.89 162 L724.03 156.84 L728.04 152.06 L731.92 147.63 L735.67 143.53 L739.31 139.72 L742.84 136.18 L746.27 132.89 L749.6 129.81 L752.85 126.94 L756 124.26 L759.08 121.76 L762.08 119.41 L765 117.21 L767.85 115.14 L770.64 113.2 L773.36 111.37 L776.03 109.65 L778.63 108.03 L781.18 106.5 L783.67 105.05 L786.12 103.68 L788.51 102.39 L790.86 101.16 L793.16 100 L795.42 98.9 L797.63 97.85 L799.81 96.85 L801.95 95.91 L804.04 95.01 L806.11 94.15 L808.13 93.33 L810.13 92.55 L812.09 91.81 L814.02 91.1 L815.91 90.42 L817.78 89.77 L819.62 89.14 L821.43 88.55 L823.22 87.98 L824.97 87.43 L826.71 86.91 L828.41 86.4 L830.1 85.92 L831.76 85.45 L833.39 85.01 L835.01 84.58 L836.6 84.17 L838.17 83.77 L839.72 83.39 L841.26 83.02 L842.77 82.66 L844.26 82.32 L845.74 81.99 L847.19 81.67 L848.63 81.36 L850.05 81.06 L851.46 80.78 L852.85 80.5 L854.22 80.23 L855.58 79.97 L856.92 79.72 L858.24 79.48 L859.56 79.24 L860.85 79.01 L862.14 78.79 L863.41 78.58 L864.66 78.37 L865.91 78.17 L867.14 77.97 L868.36 77.78 L869.56 77.6 L870.76 77.42 L871.94 77.25 L873.11 77.08 L874.27 76.91 L875.41 76.75 L876.55 76.6 L877.68 76.45 L878.79 76.3 L879.9 76.16 L880.99 76.02 L882.08 75.89 L883.15 75.75 L884.22 75.63 L885.27 75.5 L886.32 75.38 L887.36 75.26 L888.38 75.15 L889.4 75.03 L890.41 74.92 L891.42 74.82 L892.41 74.71 L893.4 74.61 L894.38 74.51 L895.35 74.41 L896.31 74.32 L897.26 74.23 L898.21 74.14 L899.15 74.05 L900.08 73.96 L901 73.88 L901.92 73.79 L902.83 73.71 L903.74 73.64 L904.63 73.56 L905.52 73.48 L906.41 73.41 L907.28 73.34 L908.15 73.27 L909.02 73.2 L909.87 73.13 L910.73 73.06 L911.57 73 L912.41 72.94 L913.25 72.87 L914.07 72.81 L914.9 72.75 L915.71 72.69 L916.52 72.64 L917.33 72.58 L918.13 72.53 L918.93 72.47 L919.71 72.42 L920.5 72.37 L921.28 72.32 L922.05 72.27 L922.82 72.22 L923.59 72.17 L924.35 72.12 L925.1 72.08 L925.85 72.03 L926.6 71.99 L927.34 71.94 L928.07 71.9 L928.8 71.86 L929.53 71.82 L930.25 71.78 L930.97 71.74 L931.68 71.7 L932.39 71.66 L933.1 71.62 L933.8 71.58 L934.5 71.55 L935.19 71.51 L935.88 71.48 L936.56 71.44 L937.25 71.41 L937.92 71.37 L938.6 71.34 L939.27 71.31 L939.93 71.28 L940.59 71.25 L941.25 71.22 L941.91 71.18 L942.56 71.15 L943.21 71.13 L943.85 71.1 L944.49 71.07 L945.13 71.04 L945.76 71.01 L946.39 70.99 L947.02 70.96 L947.65 70.93 L948.27 70.91 L948.88 70.88 L949.5 70.86 L950.11 70.83 L950.72 70.81 L951.32 70.78 L951.92 70.76 L952.52 70.74" fill="none" stroke="#232675" stroke-width="2.8" stroke-linejoin="round" stroke-linecap="round"/><g style='font-family:"Liberation Serif",serif' fill="#000"><text transform="translate(121.6 633.61) scale(1 1.06)" font-size="38.5" text-anchor="end">-0.2</text><text transform="translate(121.6 573.1) scale(1 1.06)" font-size="38.5" text-anchor="end">0.0</text><text transform="translate(121.6 512.59) scale(1 1.06)" font-size="38.5" text-anchor="end">0.2</text><text transform="translate(121.6 452.08) scale(1 1.06)" font-size="38.5" text-anchor="end">0.4</text><text transform="translate(121.6 391.57) scale(1 1.06)" font-size="38.5" text-anchor="end">0.6</text><text transform="translate(121.6 331.06) scale(1 1.06)" font-size="38.5" text-anchor="end">0.8</text><text transform="translate(121.6 270.55) scale(1 1.06)" font-size="38.5" text-anchor="end">1.0</text><text transform="translate(121.6 210.04) scale(1 1.06)" font-size="38.5" text-anchor="end">1.2</text><text transform="translate(121.6 149.53) scale(1 1.06)" font-size="38.5" text-anchor="end">1.4</text><text transform="translate(121.6 89.02) scale(1 1.06)" font-size="38.5" text-anchor="end">1.6</text><text transform="translate(121.6 28.51) scale(1 1.06)" font-size="38.5" text-anchor="end">1.8</text><text transform="translate(129.2 671.5) scale(1 1.06)" font-size="38.5">1</text><text transform="translate(395.4 671.5) scale(1 1.06)" font-size="38.5">10</text><text transform="translate(661.3 671.5) scale(1 1.06)" font-size="38.5">100</text><text transform="translate(928.1 671.5) scale(1 1.06)" font-size="38.5">1000</text><text x="588.4" y="730" font-size="49" text-anchor="middle">Frequency (Hz)</text><g transform="translate(36 411.1) rotate(-90)"><text transform="translate(1.92 0) scale(1.18 1)" font-size="49" font-style="italic">X</text><text transform="translate(75.02 0) scale(1.18 1)" font-size="49" font-style="italic">X</text><text x="32.2" y="0" font-size="36" font-style="italic">i</text><text x="41.8" y="0" font-size="37" font-style="italic">n</text><text x="63.6" y="0" font-size="52" font-style="italic">/</text><text x="105.9" y="0" font-size="37" font-style="italic">o</text><text x="124.5" y="0" font-size="37" font-style="italic">u</text><text x="143.9" y="0" font-size="37" font-style="italic">t</text></g><text transform="translate(546 94) scale(1 1.04)" font-size="35.5">0.4mm+0.24mm</text><text transform="translate(172.6 261) scale(1 1.04)" font-size="36">4.0mm</text><text transform="translate(155.7 343.5) scale(1 1.04)" font-size="36">2.0mm</text><text transform="translate(233.5 391.5) scale(1 1.04)" font-size="36">1.0mm</text><text transform="translate(421.4 427.5) scale(1 1.04)" font-size="36">0.4mm</text><text transform="translate(643.7 511) scale(1 1.04)" font-size="36">0.2mm</text></g></svg>
</body></html>
